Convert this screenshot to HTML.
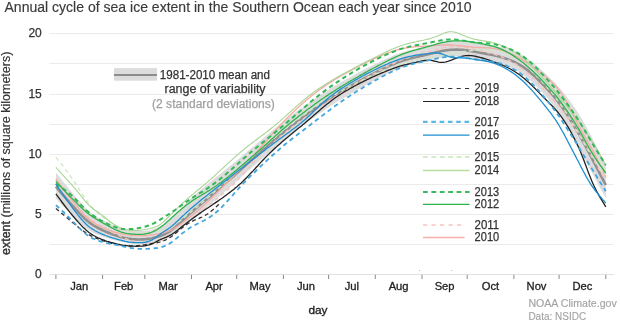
<!DOCTYPE html>
<html><head><meta charset="utf-8"><style>
html,body{margin:0;padding:0;background:#fff;width:620px;height:322px;overflow:hidden;position:relative}
svg text{font-family:"Liberation Sans",sans-serif}
svg{will-change:transform}
</style></head><body>
<svg width="620" height="322" viewBox="0 0 620 322" style="position:absolute;left:0;top:0">
<line x1="49.5" x2="613.5" y1="244.5" y2="244.5" stroke="#ebebeb" stroke-width="1"/>
<line x1="49.5" x2="613.5" y1="214.5" y2="214.5" stroke="#ebebeb" stroke-width="1"/>
<line x1="49.5" x2="613.5" y1="184.5" y2="184.5" stroke="#ebebeb" stroke-width="1"/>
<line x1="49.5" x2="613.5" y1="154.5" y2="154.5" stroke="#ebebeb" stroke-width="1"/>
<line x1="49.5" x2="613.5" y1="124.5" y2="124.5" stroke="#ebebeb" stroke-width="1"/>
<line x1="49.5" x2="613.5" y1="94.5" y2="94.5" stroke="#ebebeb" stroke-width="1"/>
<line x1="49.5" x2="613.5" y1="63.5" y2="63.5" stroke="#ebebeb" stroke-width="1"/>
<line x1="49.5" x2="613.5" y1="33.5" y2="33.5" stroke="#ebebeb" stroke-width="1"/>
<line x1="49.5" x2="614" y1="274.5" y2="274.5" stroke="#e2e2e2" stroke-width="1.2"/>
<line x1="55.9" x2="55.9" y1="274.8" y2="279" stroke="#8a8a8a" stroke-width="1"/>
<line x1="102.6" x2="102.6" y1="274.8" y2="279" stroke="#8a8a8a" stroke-width="1"/>
<line x1="144.8" x2="144.8" y1="274.8" y2="279" stroke="#8a8a8a" stroke-width="1"/>
<line x1="191.5" x2="191.5" y1="274.8" y2="279" stroke="#8a8a8a" stroke-width="1"/>
<line x1="236.7" x2="236.7" y1="274.8" y2="279" stroke="#8a8a8a" stroke-width="1"/>
<line x1="283.4" x2="283.4" y1="274.8" y2="279" stroke="#8a8a8a" stroke-width="1"/>
<line x1="328.6" x2="328.6" y1="274.8" y2="279" stroke="#8a8a8a" stroke-width="1"/>
<line x1="375.3" x2="375.3" y1="274.8" y2="279" stroke="#8a8a8a" stroke-width="1"/>
<line x1="422.0" x2="422.0" y1="274.8" y2="279" stroke="#8a8a8a" stroke-width="1"/>
<line x1="467.2" x2="467.2" y1="274.8" y2="279" stroke="#8a8a8a" stroke-width="1"/>
<line x1="513.9" x2="513.9" y1="274.8" y2="279" stroke="#8a8a8a" stroke-width="1"/>
<line x1="559.1" x2="559.1" y1="274.8" y2="279" stroke="#8a8a8a" stroke-width="1"/>
<line x1="605.8" x2="605.8" y1="274.8" y2="279" stroke="#8a8a8a" stroke-width="1"/>
<path d="M55.9,172.4 L57.4,174.3 L58.9,176.2 L60.4,178.1 L61.9,180.0 L63.4,181.9 L64.9,183.8 L66.4,185.7 L68.0,187.6 L69.5,189.4 L71.0,191.3 L72.5,193.1 L74.0,194.9 L75.5,196.7 L77.0,198.5 L78.5,200.2 L80.0,201.9 L81.5,203.6 L83.0,205.2 L84.5,206.8 L86.0,208.3 L87.5,209.8 L89.0,211.1 L90.5,212.4 L92.1,213.5 L93.6,214.6 L95.1,215.6 L96.6,216.6 L98.1,217.5 L99.6,218.4 L101.1,219.2 L102.6,220.0 L104.1,220.8 L105.6,221.6 L107.1,222.3 L108.6,223.0 L110.1,223.7 L111.6,224.3 L113.1,225.0 L114.7,225.6 L116.2,226.1 L117.7,226.7 L119.2,227.2 L120.7,227.7 L122.2,228.2 L123.7,228.6 L125.2,229.1 L126.7,229.4 L128.2,229.8 L129.7,230.1 L131.2,230.3 L132.7,230.6 L134.2,230.7 L135.7,230.9 L137.3,231.0 L138.8,231.1 L140.3,231.1 L141.8,231.1 L143.3,231.0 L144.8,230.9 L146.3,230.7 L147.8,230.5 L149.3,230.2 L150.8,229.9 L152.3,229.5 L153.8,229.0 L155.3,228.5 L156.8,227.9 L158.3,227.3 L159.8,226.6 L161.4,225.8 L162.9,225.0 L164.4,224.1 L165.9,223.1 L167.4,222.1 L168.9,220.9 L170.4,219.7 L171.9,218.4 L173.4,217.0 L174.9,215.5 L176.4,213.9 L177.9,212.3 L179.4,210.6 L180.9,209.0 L182.4,207.3 L184.0,205.6 L185.5,204.0 L187.0,202.4 L188.5,200.9 L190.0,199.4 L191.5,197.9 L193.0,196.5 L194.5,195.2 L196.0,193.8 L197.5,192.5 L199.0,191.2 L200.5,189.9 L202.0,188.7 L203.5,187.4 L205.0,186.2 L206.6,184.9 L208.1,183.7 L209.6,182.4 L211.1,181.2 L212.6,180.0 L214.1,178.8 L215.6,177.6 L217.1,176.4 L218.6,175.2 L220.1,174.0 L221.6,172.7 L223.1,171.5 L224.6,170.3 L226.1,169.1 L227.6,167.9 L229.1,166.6 L230.7,165.4 L232.2,164.2 L233.7,162.9 L235.2,161.7 L236.7,160.4 L238.2,159.2 L239.7,157.9 L241.2,156.7 L242.7,155.4 L244.2,154.1 L245.7,152.9 L247.2,151.6 L248.7,150.3 L250.2,149.1 L251.7,147.8 L253.3,146.5 L254.8,145.2 L256.3,144.0 L257.8,142.7 L259.3,141.5 L260.8,140.2 L262.3,138.9 L263.8,137.7 L265.3,136.4 L266.8,135.2 L268.3,133.9 L269.8,132.7 L271.3,131.4 L272.8,130.2 L274.3,128.9 L275.8,127.7 L277.4,126.5 L278.9,125.2 L280.4,124.0 L281.9,122.8 L283.4,121.6 L284.9,120.4 L286.4,119.2 L287.9,118.1 L289.4,116.9 L290.9,115.8 L292.4,114.6 L293.9,113.5 L295.4,112.4 L296.9,111.3 L298.4,110.2 L300.0,109.1 L301.5,108.0 L303.0,106.9 L304.5,105.9 L306.0,104.8 L307.5,103.7 L309.0,102.7 L310.5,101.6 L312.0,100.6 L313.5,99.6 L315.0,98.5 L316.5,97.5 L318.0,96.5 L319.5,95.5 L321.0,94.5 L322.6,93.5 L324.1,92.5 L325.6,91.6 L327.1,90.6 L328.6,89.7 L330.1,88.7 L331.6,87.8 L333.1,86.9 L334.6,86.0 L336.1,85.1 L337.6,84.2 L339.1,83.3 L340.6,82.5 L342.1,81.6 L343.6,80.7 L345.1,79.9 L346.7,79.0 L348.2,78.2 L349.7,77.4 L351.2,76.5 L352.7,75.7 L354.2,74.9 L355.7,74.0 L357.2,73.2 L358.7,72.4 L360.2,71.6 L361.7,70.8 L363.2,70.0 L364.7,69.2 L366.2,68.5 L367.7,67.7 L369.3,66.9 L370.8,66.2 L372.3,65.4 L373.8,64.6 L375.3,63.9 L376.8,63.2 L378.3,62.4 L379.8,61.7 L381.3,61.0 L382.8,60.3 L384.3,59.6 L385.8,58.9 L387.3,58.3 L388.8,57.6 L390.3,56.9 L391.8,56.3 L393.4,55.6 L394.9,55.0 L396.4,54.4 L397.9,53.9 L399.4,53.3 L400.9,52.8 L402.4,52.3 L403.9,51.8 L405.4,51.4 L406.9,50.9 L408.4,50.5 L409.9,50.2 L411.4,49.8 L412.9,49.4 L414.4,49.1 L416.0,48.7 L417.5,48.4 L419.0,48.1 L420.5,47.7 L422.0,47.4 L423.5,47.1 L425.0,46.7 L426.5,46.4 L428.0,46.1 L429.5,45.7 L431.0,45.3 L432.5,45.0 L434.0,44.6 L435.5,44.2 L437.0,43.9 L438.6,43.5 L440.1,43.2 L441.6,42.9 L443.1,42.6 L444.6,42.3 L446.1,42.1 L447.6,41.9 L449.1,41.7 L450.6,41.6 L452.1,41.4 L453.6,41.4 L455.1,41.3 L456.6,41.3 L458.1,41.3 L459.6,41.3 L461.1,41.4 L462.7,41.5 L464.2,41.6 L465.7,41.7 L467.2,41.9 L468.7,42.1 L470.2,42.3 L471.7,42.6 L473.2,42.8 L474.7,43.0 L476.2,43.3 L477.7,43.5 L479.2,43.7 L480.7,43.9 L482.2,44.1 L483.7,44.3 L485.3,44.6 L486.8,44.8 L488.3,45.0 L489.8,45.2 L491.3,45.5 L492.8,45.7 L494.3,46.0 L495.8,46.2 L497.3,46.5 L498.8,46.8 L500.3,47.1 L501.8,47.5 L503.3,47.8 L504.8,48.2 L506.3,48.6 L507.8,49.1 L509.4,49.5 L510.9,50.0 L512.4,50.6 L513.9,51.1 L515.4,51.7 L516.9,52.4 L518.4,53.1 L519.9,53.9 L521.4,54.7 L522.9,55.5 L524.4,56.5 L525.9,57.4 L527.4,58.5 L528.9,59.5 L530.4,60.6 L532.0,61.8 L533.5,63.0 L535.0,64.2 L536.5,65.5 L538.0,66.8 L539.5,68.1 L541.0,69.5 L542.5,70.9 L544.0,72.2 L545.5,73.7 L547.0,75.1 L548.5,76.5 L550.0,78.0 L551.5,79.5 L553.0,81.0 L554.6,82.6 L556.1,84.2 L557.6,85.9 L559.1,87.6 L560.6,89.3 L562.1,91.1 L563.6,92.9 L565.1,94.8 L566.6,96.7 L568.1,98.7 L569.6,100.6 L571.1,102.7 L572.6,104.8 L574.1,106.9 L575.6,109.1 L577.1,111.4 L578.7,113.8 L580.2,116.3 L581.7,118.8 L583.2,121.4 L584.7,124.1 L586.2,126.8 L587.7,129.6 L589.2,132.4 L590.7,135.2 L592.2,138.1 L593.7,141.0 L595.2,143.9 L596.7,146.9 L598.2,149.8 L599.7,152.8 L601.3,155.8 L602.8,158.7 L604.3,161.7 L605.8,164.6 L605.8,198.3 L604.3,195.5 L602.8,192.7 L601.3,189.9 L599.7,187.1 L598.2,184.3 L596.7,181.6 L595.2,178.8 L593.7,176.0 L592.2,173.3 L590.7,170.5 L589.2,167.7 L587.7,164.9 L586.2,162.1 L584.7,159.2 L583.2,156.3 L581.7,153.4 L580.2,150.5 L578.7,147.6 L577.1,144.7 L575.6,141.9 L574.1,139.1 L572.6,136.4 L571.1,133.6 L569.6,131.0 L568.1,128.3 L566.6,125.7 L565.1,123.2 L563.6,120.7 L562.1,118.2 L560.6,115.8 L559.1,113.5 L557.6,111.3 L556.1,109.1 L554.6,107.1 L553.0,105.1 L551.5,103.2 L550.0,101.4 L548.5,99.6 L547.0,97.8 L545.5,96.1 L544.0,94.4 L542.5,92.8 L541.0,91.1 L539.5,89.5 L538.0,87.9 L536.5,86.4 L535.0,84.9 L533.5,83.4 L532.0,82.0 L530.4,80.7 L528.9,79.3 L527.4,78.1 L525.9,76.9 L524.4,75.7 L522.9,74.6 L521.4,73.6 L519.9,72.6 L518.4,71.6 L516.9,70.8 L515.4,70.0 L513.9,69.2 L512.4,68.5 L510.9,67.8 L509.4,67.1 L507.8,66.5 L506.3,65.9 L504.8,65.4 L503.3,64.9 L501.8,64.4 L500.3,63.9 L498.8,63.5 L497.3,63.1 L495.8,62.7 L494.3,62.3 L492.8,61.9 L491.3,61.6 L489.8,61.3 L488.3,61.0 L486.8,60.7 L485.3,60.4 L483.7,60.1 L482.2,59.8 L480.7,59.5 L479.2,59.3 L477.7,59.0 L476.2,58.7 L474.7,58.4 L473.2,58.1 L471.7,57.9 L470.2,57.6 L468.7,57.3 L467.2,57.1 L465.7,56.9 L464.2,56.7 L462.7,56.5 L461.1,56.4 L459.6,56.3 L458.1,56.2 L456.6,56.2 L455.1,56.2 L453.6,56.2 L452.1,56.3 L450.6,56.4 L449.1,56.5 L447.6,56.7 L446.1,56.9 L444.6,57.1 L443.1,57.3 L441.6,57.6 L440.1,57.9 L438.6,58.3 L437.0,58.6 L435.5,59.0 L434.0,59.3 L432.5,59.7 L431.0,60.1 L429.5,60.4 L428.0,60.8 L426.5,61.2 L425.0,61.5 L423.5,61.9 L422.0,62.2 L420.5,62.6 L419.0,62.9 L417.5,63.2 L416.0,63.6 L414.4,64.0 L412.9,64.3 L411.4,64.7 L409.9,65.1 L408.4,65.5 L406.9,66.0 L405.4,66.4 L403.9,66.9 L402.4,67.4 L400.9,67.9 L399.4,68.5 L397.9,69.1 L396.4,69.7 L394.9,70.3 L393.4,71.0 L391.8,71.7 L390.3,72.4 L388.8,73.1 L387.3,73.8 L385.8,74.5 L384.3,75.3 L382.8,76.0 L381.3,76.8 L379.8,77.5 L378.3,78.3 L376.8,79.1 L375.3,79.9 L373.8,80.7 L372.3,81.5 L370.8,82.3 L369.3,83.1 L367.7,84.0 L366.2,84.8 L364.7,85.7 L363.2,86.5 L361.7,87.4 L360.2,88.2 L358.7,89.1 L357.2,90.0 L355.7,90.8 L354.2,91.7 L352.7,92.6 L351.2,93.5 L349.7,94.4 L348.2,95.3 L346.7,96.2 L345.1,97.1 L343.6,98.0 L342.1,98.9 L340.6,99.8 L339.1,100.8 L337.6,101.7 L336.1,102.6 L334.6,103.6 L333.1,104.5 L331.6,105.5 L330.1,106.5 L328.6,107.4 L327.1,108.4 L325.6,109.4 L324.1,110.4 L322.6,111.5 L321.0,112.5 L319.5,113.5 L318.0,114.6 L316.5,115.6 L315.0,116.7 L313.5,117.8 L312.0,118.8 L310.5,119.9 L309.0,121.0 L307.5,122.1 L306.0,123.2 L304.5,124.3 L303.0,125.4 L301.5,126.5 L300.0,127.7 L298.4,128.8 L296.9,129.9 L295.4,131.1 L293.9,132.2 L292.4,133.4 L290.9,134.5 L289.4,135.7 L287.9,136.9 L286.4,138.1 L284.9,139.3 L283.4,140.6 L281.9,141.8 L280.4,143.1 L278.9,144.3 L277.4,145.6 L275.8,146.8 L274.3,148.1 L272.8,149.4 L271.3,150.7 L269.8,152.0 L268.3,153.3 L266.8,154.6 L265.3,155.9 L263.8,157.2 L262.3,158.5 L260.8,159.8 L259.3,161.1 L257.8,162.4 L256.3,163.7 L254.8,165.0 L253.3,166.3 L251.7,167.6 L250.2,169.0 L248.7,170.3 L247.2,171.7 L245.7,173.0 L244.2,174.4 L242.7,175.7 L241.2,177.1 L239.7,178.4 L238.2,179.8 L236.7,181.2 L235.2,182.5 L233.7,183.9 L232.2,185.3 L230.7,186.6 L229.1,188.0 L227.6,189.3 L226.1,190.6 L224.6,192.0 L223.1,193.3 L221.6,194.6 L220.1,195.9 L218.6,197.2 L217.1,198.5 L215.6,199.8 L214.1,201.1 L212.6,202.4 L211.1,203.7 L209.6,204.9 L208.1,206.2 L206.6,207.5 L205.0,208.7 L203.5,210.0 L202.0,211.2 L200.5,212.5 L199.0,213.7 L197.5,214.9 L196.0,216.2 L194.5,217.4 L193.0,218.7 L191.5,219.9 L190.0,221.2 L188.5,222.4 L187.0,223.7 L185.5,225.0 L184.0,226.3 L182.4,227.6 L180.9,228.9 L179.4,230.2 L177.9,231.5 L176.4,232.7 L174.9,233.8 L173.4,234.9 L171.9,235.9 L170.4,236.8 L168.9,237.7 L167.4,238.4 L165.9,239.0 L164.4,239.6 L162.9,240.1 L161.4,240.6 L159.8,241.0 L158.3,241.4 L156.8,241.8 L155.3,242.2 L153.8,242.5 L152.3,242.7 L150.8,243.0 L149.3,243.2 L147.8,243.4 L146.3,243.5 L144.8,243.6 L143.3,243.7 L141.8,243.7 L140.3,243.8 L138.8,243.8 L137.3,243.7 L135.7,243.7 L134.2,243.6 L132.7,243.5 L131.2,243.4 L129.7,243.2 L128.2,243.0 L126.7,242.8 L125.2,242.6 L123.7,242.3 L122.2,242.0 L120.7,241.7 L119.2,241.3 L117.7,240.9 L116.2,240.6 L114.7,240.2 L113.1,239.8 L111.6,239.4 L110.1,239.0 L108.6,238.5 L107.1,238.1 L105.6,237.6 L104.1,237.1 L102.6,236.6 L101.1,236.1 L99.6,235.6 L98.1,235.0 L96.6,234.4 L95.1,233.7 L93.6,233.0 L92.1,232.2 L90.5,231.3 L89.0,230.4 L87.5,229.3 L86.0,228.2 L84.5,227.0 L83.0,225.7 L81.5,224.3 L80.0,223.0 L78.5,221.5 L77.0,220.1 L75.5,218.6 L74.0,217.2 L72.5,215.7 L71.0,214.2 L69.5,212.6 L68.0,211.1 L66.4,209.5 L64.9,208.0 L63.4,206.4 L61.9,204.8 L60.4,203.2 L58.9,201.6 L57.4,200.0 L55.9,198.4Z" fill="#dcdcdc"/>
<path d="M55.9,186.6 L57.4,188.4 L58.9,190.1 L60.4,191.9 L61.9,193.7 L63.4,195.4 L64.9,197.2 L66.4,198.9 L68.0,200.6 L69.5,202.4 L71.0,204.1 L72.5,205.7 L74.0,207.4 L75.5,209.1 L77.0,210.7 L78.5,212.3 L80.0,213.9 L81.5,215.4 L83.0,216.9 L84.5,218.4 L86.0,219.8 L87.5,221.1 L89.0,222.3 L90.5,223.4 L92.1,224.5 L93.6,225.5 L95.1,226.4 L96.6,227.2 L98.1,228.0 L99.6,228.8 L101.1,229.5 L102.6,230.2 L104.1,230.9 L105.6,231.6 L107.1,232.2 L108.6,232.8 L110.1,233.4 L111.6,234.0 L113.1,234.5 L114.7,235.0 L116.2,235.5 L117.7,236.0 L119.2,236.5 L120.7,236.9 L122.2,237.3 L123.7,237.7 L125.2,238.0 L126.7,238.3 L128.2,238.6 L129.7,238.8 L131.2,239.0 L132.7,239.2 L134.2,239.3 L135.7,239.4 L137.3,239.5 L138.8,239.5 L140.3,239.5 L141.8,239.4 L143.3,239.4 L144.8,239.3 L146.3,239.1 L147.8,238.9 L149.3,238.7 L150.8,238.5 L152.3,238.2 L153.8,237.8 L155.3,237.4 L156.8,237.0 L158.3,236.5 L159.8,236.0 L161.4,235.5 L162.9,234.9 L164.4,234.2 L165.9,233.5 L167.4,232.7 L168.9,231.9 L170.4,230.9 L171.9,229.8 L173.4,228.7 L174.9,227.5 L176.4,226.2 L177.9,224.8 L179.4,223.4 L180.9,222.0 L182.4,220.5 L184.0,219.1 L185.5,217.7 L187.0,216.3 L188.5,214.9 L190.0,213.5 L191.5,212.2 L193.0,210.9 L194.5,209.6 L196.0,208.3 L197.5,207.0 L199.0,205.8 L200.5,204.5 L202.0,203.2 L203.5,202.0 L205.0,200.7 L206.6,199.4 L208.1,198.1 L209.6,196.9 L211.1,195.6 L212.6,194.3 L214.1,193.0 L215.6,191.7 L217.1,190.4 L218.6,189.2 L220.1,187.9 L221.6,186.6 L223.1,185.3 L224.6,183.9 L226.1,182.6 L227.6,181.3 L229.1,180.0 L230.7,178.6 L232.2,177.3 L233.7,176.0 L235.2,174.6 L236.7,173.3 L238.2,171.9 L239.7,170.6 L241.2,169.2 L242.7,167.9 L244.2,166.5 L245.7,165.2 L247.2,163.8 L248.7,162.5 L250.2,161.2 L251.7,159.8 L253.3,158.5 L254.8,157.2 L256.3,155.9 L257.8,154.5 L259.3,153.2 L260.8,151.9 L262.3,150.6 L263.8,149.3 L265.3,148.0 L266.8,146.7 L268.3,145.4 L269.8,144.1 L271.3,142.8 L272.8,141.5 L274.3,140.2 L275.8,138.9 L277.4,137.6 L278.9,136.4 L280.4,135.1 L281.9,133.8 L283.4,132.6 L284.9,131.3 L286.4,130.1 L287.9,128.9 L289.4,127.7 L290.9,126.5 L292.4,125.3 L293.9,124.2 L295.4,123.0 L296.9,121.9 L298.4,120.7 L300.0,119.6 L301.5,118.4 L303.0,117.3 L304.5,116.2 L306.0,115.1 L307.5,114.0 L309.0,112.9 L310.5,111.8 L312.0,110.7 L313.5,109.6 L315.0,108.6 L316.5,107.5 L318.0,106.5 L319.5,105.4 L321.0,104.4 L322.6,103.4 L324.1,102.3 L325.6,101.3 L327.1,100.3 L328.6,99.4 L330.1,98.4 L331.6,97.4 L333.1,96.5 L334.6,95.5 L336.1,94.6 L337.6,93.7 L339.1,92.8 L340.6,91.9 L342.1,91.0 L343.6,90.1 L345.1,89.2 L346.7,88.3 L348.2,87.5 L349.7,86.6 L351.2,85.7 L352.7,84.9 L354.2,84.0 L355.7,83.2 L357.2,82.3 L358.7,81.5 L360.2,80.6 L361.7,79.8 L363.2,79.0 L364.7,78.2 L366.2,77.4 L367.7,76.6 L369.3,75.8 L370.8,75.0 L372.3,74.2 L373.8,73.5 L375.3,72.7 L376.8,71.9 L378.3,71.2 L379.8,70.5 L381.3,69.7 L382.8,69.0 L384.3,68.3 L385.8,67.6 L387.3,66.9 L388.8,66.2 L390.3,65.5 L391.8,64.8 L393.4,64.2 L394.9,63.6 L396.4,62.9 L397.9,62.4 L399.4,61.8 L400.9,61.3 L402.4,60.7 L403.9,60.3 L405.4,59.8 L406.9,59.4 L408.4,58.9 L409.9,58.5 L411.4,58.2 L412.9,57.8 L414.4,57.4 L416.0,57.1 L417.5,56.7 L419.0,56.4 L420.5,56.0 L422.0,55.7 L423.5,55.4 L425.0,55.0 L426.5,54.7 L428.0,54.3 L429.5,53.9 L431.0,53.6 L432.5,53.2 L434.0,52.8 L435.5,52.5 L437.0,52.1 L438.6,51.8 L440.1,51.4 L441.6,51.1 L443.1,50.8 L444.6,50.6 L446.1,50.3 L447.6,50.1 L449.1,50.0 L450.6,49.8 L452.1,49.7 L453.6,49.7 L455.1,49.6 L456.6,49.6 L458.1,49.6 L459.6,49.7 L461.1,49.8 L462.7,49.9 L464.2,50.0 L465.7,50.2 L467.2,50.4 L468.7,50.7 L470.2,50.9 L471.7,51.2 L473.2,51.5 L474.7,51.7 L476.2,52.0 L477.7,52.3 L479.2,52.5 L480.7,52.8 L482.2,53.1 L483.7,53.3 L485.3,53.6 L486.8,53.9 L488.3,54.2 L489.8,54.5 L491.3,54.8 L492.8,55.1 L494.3,55.4 L495.8,55.7 L497.3,56.1 L498.8,56.5 L500.3,56.9 L501.8,57.3 L503.3,57.8 L504.8,58.2 L506.3,58.8 L507.8,59.3 L509.4,59.9 L510.9,60.5 L512.4,61.1 L513.9,61.8 L515.4,62.5 L516.9,63.3 L518.4,64.1 L519.9,64.9 L521.4,65.9 L522.9,66.8 L524.4,67.9 L525.9,69.0 L527.4,70.1 L528.9,71.3 L530.4,72.6 L532.0,73.9 L533.5,75.2 L535.0,76.6 L536.5,78.0 L538.0,79.5 L539.5,81.0 L541.0,82.5 L542.5,84.0 L544.0,85.6 L545.5,87.1 L547.0,88.7 L548.5,90.4 L550.0,92.0 L551.5,93.7 L553.0,95.5 L554.6,97.3 L556.1,99.1 L557.6,101.1 L559.1,103.1 L560.6,105.1 L562.1,107.2 L563.6,109.4 L565.1,111.6 L566.6,113.9 L568.1,116.2 L569.6,118.5 L571.1,120.9 L572.6,123.3 L574.1,125.8 L575.6,128.4 L577.1,131.0 L578.7,133.6 L580.2,136.3 L581.7,139.1 L583.2,141.9 L584.7,144.7 L586.2,147.5 L587.7,150.3 L589.2,153.2 L590.7,156.0 L592.2,158.9 L593.7,161.8 L595.2,164.7 L596.7,167.6 L598.2,170.5 L599.7,173.4 L601.3,176.3 L602.8,179.2 L604.3,182.1 L605.8,185.0" fill="none" stroke="#909090" stroke-width="2.6"/>
<path d="M55.9,182.6 L57.4,184.4 L58.9,186.2 L60.4,187.9 L61.9,189.7 L63.4,191.4 L64.9,193.2 L66.4,194.9 L68.0,196.6 L69.5,198.3 L71.0,199.9 L72.5,201.6 L74.0,203.2 L75.5,204.8 L77.0,206.4 L78.5,208.0 L80.0,209.6 L81.5,211.1 L83.0,212.6 L84.5,214.1 L86.0,215.5 L87.5,216.8 L89.0,218.1 L90.5,219.3 L92.1,220.3 L93.6,221.4 L95.1,222.4 L96.6,223.3 L98.1,224.2 L99.6,225.1 L101.1,225.9 L102.6,226.8 L104.1,227.6 L105.6,228.5 L107.1,229.3 L108.6,230.1 L110.1,231.0 L111.6,231.8 L113.1,232.6 L114.7,233.3 L116.2,234.1 L117.7,234.9 L119.2,235.6 L120.7,236.3 L122.2,237.0 L123.7,237.7 L125.2,238.3 L126.7,238.9 L128.2,239.5 L129.7,240.0 L131.2,240.5 L132.7,240.9 L134.2,241.4 L135.7,241.7 L137.3,242.1 L138.8,242.3 L140.3,242.6 L141.8,242.8 L143.3,243.0 L144.8,243.1 L146.3,243.1 L147.8,243.2 L149.3,243.1 L150.8,243.0 L152.3,242.9 L153.8,242.7 L155.3,242.4 L156.8,242.2 L158.3,241.8 L159.8,241.4 L161.4,241.0 L162.9,240.5 L164.4,240.0 L165.9,239.4 L167.4,238.7 L168.9,238.0 L170.4,237.1 L171.9,236.2 L173.4,235.1 L174.9,234.0 L176.4,232.8 L177.9,231.5 L179.4,230.2 L180.9,228.9 L182.4,227.6 L184.0,226.2 L185.5,224.9 L187.0,223.6 L188.5,222.2 L190.0,221.0 L191.5,219.7 L193.0,218.5 L194.5,217.2 L196.0,216.0 L197.5,214.8 L199.0,213.6 L200.5,212.4 L202.0,211.2 L203.5,209.9 L205.0,208.7 L206.6,207.5 L208.1,206.2 L209.6,205.0 L211.1,203.7 L212.6,202.5 L214.1,201.2 L215.6,200.0 L217.1,198.7 L218.6,197.4 L220.1,196.1 L221.6,194.8 L223.1,193.5 L224.6,192.2 L226.1,190.9 L227.6,189.5 L229.1,188.2 L230.7,186.8 L232.2,185.4 L233.7,184.0 L235.2,182.5 L236.7,181.0 L238.2,179.5 L239.7,177.9 L241.2,176.2 L242.7,174.5 L244.2,172.8 L245.7,171.0 L247.2,169.2 L248.7,167.5 L250.2,165.7 L251.7,164.0 L253.3,162.3 L254.8,160.6 L256.3,158.9 L257.8,157.4 L259.3,155.8 L260.8,154.3 L262.3,152.9 L263.8,151.4 L265.3,150.0 L266.8,148.6 L268.3,147.3 L269.8,145.9 L271.3,144.5 L272.8,143.2 L274.3,141.9 L275.8,140.5 L277.4,139.2 L278.9,137.9 L280.4,136.6 L281.9,135.4 L283.4,134.1 L284.9,132.9 L286.4,131.6 L287.9,130.4 L289.4,129.2 L290.9,128.1 L292.4,126.9 L293.9,125.7 L295.4,124.6 L296.9,123.5 L298.4,122.3 L300.0,121.2 L301.5,120.1 L303.0,119.0 L304.5,117.9 L306.0,116.8 L307.5,115.7 L309.0,114.6 L310.5,113.6 L312.0,112.5 L313.5,111.4 L315.0,110.4 L316.5,109.3 L318.0,108.3 L319.5,107.2 L321.0,106.2 L322.6,105.2 L324.1,104.2 L325.6,103.1 L327.1,102.1 L328.6,101.1 L330.1,100.1 L331.6,99.1 L333.1,98.2 L334.6,97.2 L336.1,96.2 L337.6,95.3 L339.1,94.3 L340.6,93.4 L342.1,92.4 L343.6,91.5 L345.1,90.6 L346.7,89.6 L348.2,88.7 L349.7,87.8 L351.2,86.9 L352.7,85.9 L354.2,85.0 L355.7,84.1 L357.2,83.2 L358.7,82.3 L360.2,81.4 L361.7,80.5 L363.2,79.7 L364.7,78.8 L366.2,77.9 L367.7,77.0 L369.3,76.2 L370.8,75.3 L372.3,74.5 L373.8,73.6 L375.3,72.8 L376.8,72.0 L378.3,71.2 L379.8,70.4 L381.3,69.6 L382.8,68.8 L384.3,68.0 L385.8,67.2 L387.3,66.4 L388.8,65.7 L390.3,64.9 L391.8,64.2 L393.4,63.5 L394.9,62.8 L396.4,62.1 L397.9,61.5 L399.4,60.8 L400.9,60.2 L402.4,59.7 L403.9,59.1 L405.4,58.6 L406.9,58.1 L408.4,57.6 L409.9,57.1 L411.4,56.7 L412.9,56.2 L414.4,55.8 L416.0,55.3 L417.5,54.9 L419.0,54.5 L420.5,54.1 L422.0,53.7 L423.5,53.2 L425.0,52.8 L426.5,52.4 L428.0,52.0 L429.5,51.5 L431.0,51.1 L432.5,50.7 L434.0,50.2 L435.5,49.8 L437.0,49.4 L438.6,49.0 L440.1,48.6 L441.6,48.2 L443.1,47.9 L444.6,47.6 L446.1,47.4 L447.6,47.1 L449.1,47.0 L450.6,46.8 L452.1,46.7 L453.6,46.7 L455.1,46.7 L456.6,46.7 L458.1,46.7 L459.6,46.8 L461.1,46.9 L462.7,47.1 L464.2,47.3 L465.7,47.5 L467.2,47.8 L468.7,48.1 L470.2,48.4 L471.7,48.7 L473.2,49.1 L474.7,49.4 L476.2,49.8 L477.7,50.1 L479.2,50.5 L480.7,50.8 L482.2,51.2 L483.7,51.6 L485.3,51.9 L486.8,52.3 L488.3,52.7 L489.8,53.1 L491.3,53.5 L492.8,53.9 L494.3,54.4 L495.8,54.9 L497.3,55.4 L498.8,55.9 L500.3,56.4 L501.8,57.0 L503.3,57.7 L504.8,58.3 L506.3,59.0 L507.8,59.7 L509.4,60.5 L510.9,61.3 L512.4,62.1 L513.9,63.0 L515.4,63.9 L516.9,64.9 L518.4,65.9 L519.9,67.0 L521.4,68.1 L522.9,69.3 L524.4,70.5 L525.9,71.8 L527.4,73.1 L528.9,74.4 L530.4,75.8 L532.0,77.3 L533.5,78.8 L535.0,80.2 L536.5,81.8 L538.0,83.3 L539.5,84.9 L541.0,86.4 L542.5,88.0 L544.0,89.6 L545.5,91.2 L547.0,92.8 L548.5,94.4 L550.0,96.0 L551.5,97.6 L553.0,99.3 L554.6,101.0 L556.1,102.7 L557.6,104.6 L559.1,106.4 L560.6,108.3 L562.1,110.3 L563.6,112.3 L565.1,114.3 L566.6,116.4 L568.1,118.5 L569.6,120.6 L571.1,122.8 L572.6,125.0 L574.1,127.3 L575.6,129.6 L577.1,131.9 L578.7,134.3 L580.2,136.8 L581.7,139.3 L583.2,141.8 L584.7,144.4 L586.2,147.0 L587.7,149.6 L589.2,152.2 L590.7,154.8 L592.2,157.4 L593.7,160.0 L595.2,162.6 L596.7,165.3 L598.2,168.0 L599.7,170.7 L601.3,173.3 L602.8,176.0 L604.3,178.7 L605.8,181.4" fill="none" stroke="#f7c0ba" stroke-width="1.4" stroke-dasharray="4,3.5" stroke-linejoin="round"/>
<path d="M55.9,179.0 L57.4,181.0 L58.9,183.0 L60.4,185.0 L61.9,187.1 L63.4,189.1 L64.9,191.1 L66.4,193.1 L68.0,195.0 L69.5,197.0 L71.0,199.0 L72.5,200.9 L74.0,202.8 L75.5,204.7 L77.0,206.5 L78.5,208.4 L80.0,210.1 L81.5,211.9 L83.0,213.5 L84.5,215.2 L86.0,216.7 L87.5,218.1 L89.0,219.4 L90.5,220.6 L92.1,221.7 L93.6,222.8 L95.1,223.7 L96.6,224.6 L98.1,225.4 L99.6,226.2 L101.1,226.9 L102.6,227.6 L104.1,228.2 L105.6,228.9 L107.1,229.5 L108.6,230.0 L110.1,230.6 L111.6,231.1 L113.1,231.6 L114.7,232.1 L116.2,232.5 L117.7,232.9 L119.2,233.3 L120.7,233.7 L122.2,234.0 L123.7,234.3 L125.2,234.6 L126.7,234.9 L128.2,235.1 L129.7,235.3 L131.2,235.4 L132.7,235.5 L134.2,235.6 L135.7,235.7 L137.3,235.7 L138.8,235.7 L140.3,235.7 L141.8,235.7 L143.3,235.6 L144.8,235.6 L146.3,235.5 L147.8,235.3 L149.3,235.2 L150.8,235.0 L152.3,234.8 L153.8,234.6 L155.3,234.4 L156.8,234.1 L158.3,233.8 L159.8,233.6 L161.4,233.2 L162.9,232.9 L164.4,232.6 L165.9,232.1 L167.4,231.7 L168.9,231.1 L170.4,230.5 L171.9,229.8 L173.4,229.0 L174.9,228.1 L176.4,227.1 L177.9,226.1 L179.4,225.0 L180.9,223.9 L182.4,222.8 L184.0,221.6 L185.5,220.5 L187.0,219.3 L188.5,218.1 L190.0,216.9 L191.5,215.8 L193.0,214.6 L194.5,213.4 L196.0,212.1 L197.5,210.9 L199.0,209.6 L200.5,208.3 L202.0,207.0 L203.5,205.6 L205.0,204.2 L206.6,202.8 L208.1,201.4 L209.6,199.9 L211.1,198.5 L212.6,197.0 L214.1,195.5 L215.6,194.1 L217.1,192.6 L218.6,191.1 L220.1,189.6 L221.6,188.1 L223.1,186.5 L224.6,185.0 L226.1,183.5 L227.6,182.0 L229.1,180.5 L230.7,179.0 L232.2,177.4 L233.7,175.9 L235.2,174.4 L236.7,172.8 L238.2,171.3 L239.7,169.7 L241.2,168.1 L242.7,166.6 L244.2,165.0 L245.7,163.4 L247.2,161.8 L248.7,160.2 L250.2,158.6 L251.7,157.0 L253.3,155.3 L254.8,153.7 L256.3,152.1 L257.8,150.4 L259.3,148.7 L260.8,147.0 L262.3,145.3 L263.8,143.6 L265.3,141.9 L266.8,140.2 L268.3,138.4 L269.8,136.7 L271.3,135.0 L272.8,133.3 L274.3,131.6 L275.8,129.9 L277.4,128.3 L278.9,126.6 L280.4,125.0 L281.9,123.4 L283.4,121.8 L284.9,120.3 L286.4,118.8 L287.9,117.3 L289.4,115.8 L290.9,114.3 L292.4,112.8 L293.9,111.4 L295.4,110.0 L296.9,108.6 L298.4,107.2 L300.0,105.8 L301.5,104.5 L303.0,103.1 L304.5,101.8 L306.0,100.5 L307.5,99.2 L309.0,98.0 L310.5,96.7 L312.0,95.5 L313.5,94.3 L315.0,93.2 L316.5,92.0 L318.0,90.9 L319.5,89.8 L321.0,88.7 L322.6,87.6 L324.1,86.6 L325.6,85.6 L327.1,84.5 L328.6,83.5 L330.1,82.6 L331.6,81.6 L333.1,80.6 L334.6,79.7 L336.1,78.8 L337.6,77.9 L339.1,77.0 L340.6,76.1 L342.1,75.3 L343.6,74.4 L345.1,73.6 L346.7,72.7 L348.2,71.9 L349.7,71.1 L351.2,70.2 L352.7,69.4 L354.2,68.6 L355.7,67.8 L357.2,67.0 L358.7,66.3 L360.2,65.5 L361.7,64.7 L363.2,64.0 L364.7,63.2 L366.2,62.5 L367.7,61.7 L369.3,61.0 L370.8,60.3 L372.3,59.6 L373.8,58.9 L375.3,58.2 L376.8,57.6 L378.3,56.9 L379.8,56.3 L381.3,55.6 L382.8,55.0 L384.3,54.4 L385.8,53.8 L387.3,53.2 L388.8,52.7 L390.3,52.1 L391.8,51.6 L393.4,51.1 L394.9,50.6 L396.4,50.1 L397.9,49.7 L399.4,49.3 L400.9,48.9 L402.4,48.6 L403.9,48.3 L405.4,48.0 L406.9,47.7 L408.4,47.5 L409.9,47.3 L411.4,47.1 L412.9,47.0 L414.4,46.9 L416.0,46.7 L417.5,46.6 L419.0,46.5 L420.5,46.5 L422.0,46.4 L423.5,46.3 L425.0,46.2 L426.5,46.1 L428.0,46.0 L429.5,45.9 L431.0,45.8 L432.5,45.7 L434.0,45.6 L435.5,45.5 L437.0,45.4 L438.6,45.3 L440.1,45.2 L441.6,45.1 L443.1,45.0 L444.6,45.0 L446.1,45.0 L447.6,45.0 L449.1,45.0 L450.6,45.0 L452.1,45.1 L453.6,45.2 L455.1,45.3 L456.6,45.4 L458.1,45.5 L459.6,45.6 L461.1,45.8 L462.7,46.0 L464.2,46.1 L465.7,46.3 L467.2,46.5 L468.7,46.7 L470.2,46.9 L471.7,47.0 L473.2,47.2 L474.7,47.3 L476.2,47.4 L477.7,47.5 L479.2,47.6 L480.7,47.6 L482.2,47.7 L483.7,47.7 L485.3,47.8 L486.8,47.8 L488.3,47.9 L489.8,48.0 L491.3,48.2 L492.8,48.4 L494.3,48.6 L495.8,48.8 L497.3,49.1 L498.8,49.5 L500.3,49.9 L501.8,50.3 L503.3,50.8 L504.8,51.3 L506.3,51.8 L507.8,52.4 L509.4,53.0 L510.9,53.6 L512.4,54.3 L513.9,55.0 L515.4,55.8 L516.9,56.6 L518.4,57.4 L519.9,58.3 L521.4,59.2 L522.9,60.1 L524.4,61.1 L525.9,62.1 L527.4,63.1 L528.9,64.2 L530.4,65.2 L532.0,66.3 L533.5,67.4 L535.0,68.5 L536.5,69.6 L538.0,70.7 L539.5,71.8 L541.0,73.0 L542.5,74.2 L544.0,75.3 L545.5,76.6 L547.0,77.8 L548.5,79.1 L550.0,80.4 L551.5,81.8 L553.0,83.3 L554.6,84.8 L556.1,86.5 L557.6,88.2 L559.1,90.1 L560.6,92.2 L562.1,94.4 L563.6,96.8 L565.1,99.3 L566.6,102.1 L568.1,104.9 L569.6,107.9 L571.1,110.9 L572.6,113.9 L574.1,116.9 L575.6,119.9 L577.1,122.8 L578.7,125.7 L580.2,128.4 L581.7,131.1 L583.2,133.8 L584.7,136.4 L586.2,139.0 L587.7,141.6 L589.2,144.2 L590.7,146.9 L592.2,149.6 L593.7,152.4 L595.2,155.3 L596.7,158.3 L598.2,161.4 L599.7,164.5 L601.3,167.7 L602.8,170.9 L604.3,174.2 L605.8,177.5" fill="none" stroke="#f4aca4" stroke-width="1.3" stroke-linejoin="round"/>
<path d="M55.9,157.4 L57.4,159.1 L58.9,160.9 L60.4,162.7 L61.9,164.6 L63.4,166.5 L64.9,168.5 L66.4,170.6 L68.0,172.6 L69.5,174.7 L71.0,176.9 L72.5,179.0 L74.0,181.2 L75.5,183.5 L77.0,185.8 L78.5,188.1 L80.0,190.5 L81.5,192.9 L83.0,195.3 L84.5,197.6 L86.0,199.8 L87.5,201.9 L89.0,203.9 L90.5,205.7 L92.1,207.4 L93.6,208.9 L95.1,210.4 L96.6,211.8 L98.1,213.2 L99.6,214.4 L101.1,215.7 L102.6,216.9 L104.1,218.0 L105.6,219.2 L107.1,220.3 L108.6,221.3 L110.1,222.3 L111.6,223.3 L113.1,224.2 L114.7,225.1 L116.2,225.9 L117.7,226.7 L119.2,227.5 L120.7,228.2 L122.2,228.8 L123.7,229.4 L125.2,230.0 L126.7,230.4 L128.2,230.8 L129.7,231.2 L131.2,231.5 L132.7,231.7 L134.2,231.9 L135.7,232.1 L137.3,232.2 L138.8,232.3 L140.3,232.4 L141.8,232.4 L143.3,232.4 L144.8,232.4 L146.3,232.3 L147.8,232.3 L149.3,232.2 L150.8,232.0 L152.3,231.9 L153.8,231.7 L155.3,231.5 L156.8,231.3 L158.3,231.1 L159.8,230.8 L161.4,230.4 L162.9,230.1 L164.4,229.7 L165.9,229.2 L167.4,228.7 L168.9,228.1 L170.4,227.4 L171.9,226.6 L173.4,225.7 L174.9,224.7 L176.4,223.6 L177.9,222.5 L179.4,221.4 L180.9,220.2 L182.4,218.9 L184.0,217.7 L185.5,216.4 L187.0,215.2 L188.5,214.0 L190.0,212.7 L191.5,211.5 L193.0,210.3 L194.5,209.1 L196.0,207.8 L197.5,206.6 L199.0,205.3 L200.5,204.1 L202.0,202.8 L203.5,201.5 L205.0,200.2 L206.6,198.9 L208.1,197.5 L209.6,196.2 L211.1,194.8 L212.6,193.5 L214.1,192.1 L215.6,190.8 L217.1,189.4 L218.6,188.1 L220.1,186.7 L221.6,185.3 L223.1,184.0 L224.6,182.6 L226.1,181.2 L227.6,179.9 L229.1,178.5 L230.7,177.1 L232.2,175.7 L233.7,174.3 L235.2,172.9 L236.7,171.5 L238.2,170.1 L239.7,168.7 L241.2,167.2 L242.7,165.8 L244.2,164.4 L245.7,163.0 L247.2,161.6 L248.7,160.2 L250.2,158.9 L251.7,157.5 L253.3,156.1 L254.8,154.8 L256.3,153.5 L257.8,152.1 L259.3,150.8 L260.8,149.5 L262.3,148.2 L263.8,146.9 L265.3,145.6 L266.8,144.3 L268.3,143.0 L269.8,141.7 L271.3,140.4 L272.8,139.1 L274.3,137.9 L275.8,136.6 L277.4,135.3 L278.9,134.1 L280.4,132.8 L281.9,131.6 L283.4,130.4 L284.9,129.2 L286.4,128.0 L287.9,126.8 L289.4,125.6 L290.9,124.4 L292.4,123.3 L293.9,122.1 L295.4,121.0 L296.9,119.9 L298.4,118.8 L300.0,117.7 L301.5,116.6 L303.0,115.5 L304.5,114.4 L306.0,113.4 L307.5,112.3 L309.0,111.2 L310.5,110.2 L312.0,109.1 L313.5,108.1 L315.0,107.1 L316.5,106.1 L318.0,105.1 L319.5,104.1 L321.0,103.1 L322.6,102.1 L324.1,101.1 L325.6,100.2 L327.1,99.2 L328.6,98.3 L330.1,97.4 L331.6,96.5 L333.1,95.6 L334.6,94.7 L336.1,93.8 L337.6,93.0 L339.1,92.1 L340.6,91.3 L342.1,90.5 L343.6,89.6 L345.1,88.8 L346.7,88.0 L348.2,87.2 L349.7,86.4 L351.2,85.6 L352.7,84.9 L354.2,84.1 L355.7,83.3 L357.2,82.5 L358.7,81.8 L360.2,81.0 L361.7,80.3 L363.2,79.6 L364.7,78.8 L366.2,78.1 L367.7,77.4 L369.3,76.7 L370.8,76.0 L372.3,75.3 L373.8,74.6 L375.3,73.9 L376.8,73.3 L378.3,72.6 L379.8,72.0 L381.3,71.3 L382.8,70.7 L384.3,70.0 L385.8,69.4 L387.3,68.8 L388.8,68.2 L390.3,67.6 L391.8,67.0 L393.4,66.4 L394.9,65.8 L396.4,65.3 L397.9,64.8 L399.4,64.3 L400.9,63.8 L402.4,63.4 L403.9,63.0 L405.4,62.6 L406.9,62.2 L408.4,61.9 L409.9,61.6 L411.4,61.3 L412.9,61.0 L414.4,60.7 L416.0,60.5 L417.5,60.2 L419.0,59.9 L420.5,59.7 L422.0,59.4 L423.5,59.2 L425.0,58.9 L426.5,58.6 L428.0,58.4 L429.5,58.1 L431.0,57.7 L432.5,57.4 L434.0,57.1 L435.5,56.7 L437.0,56.4 L438.6,56.0 L440.1,55.7 L441.6,55.3 L443.1,55.0 L444.6,54.7 L446.1,54.4 L447.6,54.1 L449.1,53.8 L450.6,53.5 L452.1,53.3 L453.6,53.0 L455.1,52.8 L456.6,52.5 L458.1,52.3 L459.6,52.0 L461.1,51.8 L462.7,51.6 L464.2,51.4 L465.7,51.2 L467.2,51.0 L468.7,50.9 L470.2,50.7 L471.7,50.6 L473.2,50.5 L474.7,50.4 L476.2,50.3 L477.7,50.2 L479.2,50.1 L480.7,50.0 L482.2,49.9 L483.7,49.8 L485.3,49.8 L486.8,49.8 L488.3,49.8 L489.8,49.9 L491.3,50.0 L492.8,50.1 L494.3,50.3 L495.8,50.5 L497.3,50.8 L498.8,51.2 L500.3,51.5 L501.8,52.0 L503.3,52.5 L504.8,53.0 L506.3,53.6 L507.8,54.3 L509.4,55.0 L510.9,55.7 L512.4,56.5 L513.9,57.3 L515.4,58.2 L516.9,59.2 L518.4,60.2 L519.9,61.2 L521.4,62.4 L522.9,63.5 L524.4,64.7 L525.9,66.0 L527.4,67.3 L528.9,68.7 L530.4,70.1 L532.0,71.5 L533.5,72.9 L535.0,74.4 L536.5,75.9 L538.0,77.5 L539.5,79.0 L541.0,80.6 L542.5,82.3 L544.0,83.9 L545.5,85.6 L547.0,87.3 L548.5,89.0 L550.0,90.8 L551.5,92.6 L553.0,94.4 L554.6,96.3 L556.1,98.3 L557.6,100.3 L559.1,102.4 L560.6,104.5 L562.1,106.7 L563.6,108.9 L565.1,111.2 L566.6,113.5 L568.1,115.8 L569.6,118.2 L571.1,120.6 L572.6,123.0 L574.1,125.5 L575.6,128.0 L577.1,130.5 L578.7,133.1 L580.2,135.8 L581.7,138.4 L583.2,141.1 L584.7,143.7 L586.2,146.3 L587.7,148.8 L589.2,151.3 L590.7,153.7 L592.2,156.0 L593.7,158.2 L595.2,160.4 L596.7,162.6 L598.2,164.7 L599.7,166.9 L601.3,169.0 L602.8,171.1 L604.3,173.3 L605.8,175.4" fill="none" stroke="#cfe8c2" stroke-width="1.4" stroke-dasharray="4,3.5" stroke-linejoin="round"/>
<path d="M55.9,167.3 L57.4,169.0 L58.9,170.7 L60.4,172.4 L61.9,174.0 L63.4,175.7 L64.9,177.3 L66.4,179.0 L68.0,180.6 L69.5,182.3 L71.0,183.9 L72.5,185.6 L74.0,187.4 L75.5,189.1 L77.0,190.9 L78.5,192.8 L80.0,194.6 L81.5,196.5 L83.0,198.4 L84.5,200.3 L86.0,202.1 L87.5,203.7 L89.0,205.3 L90.5,206.7 L92.1,208.0 L93.6,209.2 L95.1,210.3 L96.6,211.3 L98.1,212.3 L99.6,213.4 L101.1,214.5 L102.6,215.6 L104.1,216.8 L105.6,218.0 L107.1,219.2 L108.6,220.4 L110.1,221.6 L111.6,222.7 L113.1,223.8 L114.7,224.8 L116.2,225.8 L117.7,226.6 L119.2,227.4 L120.7,228.0 L122.2,228.6 L123.7,229.1 L125.2,229.5 L126.7,229.8 L128.2,230.0 L129.7,230.2 L131.2,230.4 L132.7,230.4 L134.2,230.5 L135.7,230.5 L137.3,230.4 L138.8,230.3 L140.3,230.1 L141.8,230.0 L143.3,229.8 L144.8,229.5 L146.3,229.3 L147.8,229.0 L149.3,228.7 L150.8,228.3 L152.3,228.0 L153.8,227.5 L155.3,227.0 L156.8,226.4 L158.3,225.7 L159.8,224.7 L161.4,223.6 L162.9,222.4 L164.4,221.0 L165.9,219.5 L167.4,218.0 L168.9,216.4 L170.4,214.9 L171.9,213.5 L173.4,212.0 L174.9,210.6 L176.4,209.1 L177.9,207.7 L179.4,206.2 L180.9,204.8 L182.4,203.4 L184.0,201.9 L185.5,200.6 L187.0,199.2 L188.5,197.9 L190.0,196.6 L191.5,195.3 L193.0,194.1 L194.5,192.8 L196.0,191.6 L197.5,190.4 L199.0,189.2 L200.5,188.0 L202.0,186.7 L203.5,185.4 L205.0,184.2 L206.6,182.9 L208.1,181.6 L209.6,180.2 L211.1,178.9 L212.6,177.5 L214.1,176.2 L215.6,174.8 L217.1,173.4 L218.6,172.1 L220.1,170.7 L221.6,169.3 L223.1,167.9 L224.6,166.5 L226.1,165.1 L227.6,163.7 L229.1,162.3 L230.7,160.9 L232.2,159.6 L233.7,158.2 L235.2,156.9 L236.7,155.5 L238.2,154.2 L239.7,152.9 L241.2,151.6 L242.7,150.4 L244.2,149.1 L245.7,147.9 L247.2,146.7 L248.7,145.5 L250.2,144.4 L251.7,143.2 L253.3,142.1 L254.8,140.9 L256.3,139.8 L257.8,138.7 L259.3,137.5 L260.8,136.4 L262.3,135.3 L263.8,134.2 L265.3,133.0 L266.8,131.9 L268.3,130.7 L269.8,129.5 L271.3,128.3 L272.8,127.1 L274.3,125.9 L275.8,124.6 L277.4,123.3 L278.9,122.1 L280.4,120.8 L281.9,119.4 L283.4,118.1 L284.9,116.7 L286.4,115.4 L287.9,114.0 L289.4,112.7 L290.9,111.3 L292.4,110.0 L293.9,108.6 L295.4,107.3 L296.9,105.9 L298.4,104.6 L300.0,103.3 L301.5,102.0 L303.0,100.7 L304.5,99.5 L306.0,98.2 L307.5,97.0 L309.0,95.8 L310.5,94.7 L312.0,93.5 L313.5,92.4 L315.0,91.3 L316.5,90.3 L318.0,89.2 L319.5,88.2 L321.0,87.2 L322.6,86.2 L324.1,85.2 L325.6,84.2 L327.1,83.3 L328.6,82.3 L330.1,81.4 L331.6,80.5 L333.1,79.6 L334.6,78.8 L336.1,77.9 L337.6,77.0 L339.1,76.2 L340.6,75.4 L342.1,74.5 L343.6,73.7 L345.1,72.9 L346.7,72.1 L348.2,71.3 L349.7,70.5 L351.2,69.7 L352.7,68.9 L354.2,68.1 L355.7,67.3 L357.2,66.5 L358.7,65.7 L360.2,64.9 L361.7,64.1 L363.2,63.3 L364.7,62.6 L366.2,61.8 L367.7,61.0 L369.3,60.2 L370.8,59.4 L372.3,58.7 L373.8,57.9 L375.3,57.2 L376.8,56.4 L378.3,55.7 L379.8,54.9 L381.3,54.2 L382.8,53.5 L384.3,52.8 L385.8,52.1 L387.3,51.4 L388.8,50.7 L390.3,50.0 L391.8,49.3 L393.4,48.7 L394.9,48.0 L396.4,47.4 L397.9,46.8 L399.4,46.3 L400.9,45.7 L402.4,45.2 L403.9,44.8 L405.4,44.3 L406.9,43.9 L408.4,43.5 L409.9,43.1 L411.4,42.7 L412.9,42.4 L414.4,42.1 L416.0,41.8 L417.5,41.4 L419.0,41.1 L420.5,40.8 L422.0,40.5 L423.5,40.2 L425.0,39.8 L426.5,39.5 L428.0,39.1 L429.5,38.7 L431.0,38.3 L432.5,37.8 L434.0,37.3 L435.5,36.8 L437.0,36.2 L438.6,35.6 L440.1,34.9 L441.6,34.2 L443.1,33.6 L444.6,33.0 L446.1,32.5 L447.6,32.1 L449.1,31.8 L450.6,31.8 L452.1,31.8 L453.6,32.0 L455.1,32.3 L456.6,32.8 L458.1,33.3 L459.6,33.8 L461.1,34.4 L462.7,35.1 L464.2,35.7 L465.7,36.3 L467.2,36.9 L468.7,37.5 L470.2,38.0 L471.7,38.5 L473.2,38.9 L474.7,39.3 L476.2,39.6 L477.7,39.9 L479.2,40.2 L480.7,40.4 L482.2,40.7 L483.7,40.9 L485.3,41.1 L486.8,41.4 L488.3,41.6 L489.8,41.9 L491.3,42.2 L492.8,42.6 L494.3,43.0 L495.8,43.4 L497.3,43.9 L498.8,44.4 L500.3,44.9 L501.8,45.5 L503.3,46.1 L504.8,46.8 L506.3,47.5 L507.8,48.2 L509.4,49.0 L510.9,49.8 L512.4,50.7 L513.9,51.6 L515.4,52.6 L516.9,53.6 L518.4,54.6 L519.9,55.7 L521.4,56.9 L522.9,58.1 L524.4,59.3 L525.9,60.7 L527.4,62.0 L528.9,63.5 L530.4,64.9 L532.0,66.4 L533.5,67.9 L535.0,69.5 L536.5,71.1 L538.0,72.7 L539.5,74.3 L541.0,75.9 L542.5,77.6 L544.0,79.2 L545.5,80.9 L547.0,82.5 L548.5,84.2 L550.0,85.9 L551.5,87.6 L553.0,89.3 L554.6,91.0 L556.1,92.8 L557.6,94.6 L559.1,96.4 L560.6,98.3 L562.1,100.1 L563.6,102.0 L565.1,103.9 L566.6,105.8 L568.1,107.7 L569.6,109.6 L571.1,111.5 L572.6,113.4 L574.1,115.4 L575.6,117.4 L577.1,119.4 L578.7,121.5 L580.2,123.7 L581.7,125.8 L583.2,128.0 L584.7,130.3 L586.2,132.5 L587.7,134.8 L589.2,137.1 L590.7,139.4 L592.2,141.7 L593.7,144.1 L595.2,146.5 L596.7,149.0 L598.2,151.6 L599.7,154.2 L601.3,157.0 L602.8,159.9 L604.3,162.8 L605.8,165.8" fill="none" stroke="#a8d594" stroke-width="1.1" stroke-linejoin="round"/>
<path d="M55.9,181.4 L57.4,183.1 L58.9,184.7 L60.4,186.3 L61.9,187.9 L63.4,189.5 L64.9,191.1 L66.4,192.7 L68.0,194.3 L69.5,195.8 L71.0,197.4 L72.5,198.9 L74.0,200.4 L75.5,201.9 L77.0,203.4 L78.5,204.9 L80.0,206.3 L81.5,207.8 L83.0,209.2 L84.5,210.5 L86.0,211.8 L87.5,213.1 L89.0,214.2 L90.5,215.3 L92.1,216.4 L93.6,217.4 L95.1,218.3 L96.6,219.2 L98.1,220.1 L99.6,221.0 L101.1,221.9 L102.6,222.8 L104.1,223.6 L105.6,224.5 L107.1,225.3 L108.6,226.1 L110.1,226.9 L111.6,227.7 L113.1,228.5 L114.7,229.3 L116.2,230.0 L117.7,230.6 L119.2,231.2 L120.7,231.8 L122.2,232.3 L123.7,232.7 L125.2,233.1 L126.7,233.4 L128.2,233.6 L129.7,233.8 L131.2,234.0 L132.7,234.1 L134.2,234.2 L135.7,234.3 L137.3,234.4 L138.8,234.4 L140.3,234.3 L141.8,234.3 L143.3,234.2 L144.8,234.0 L146.3,233.7 L147.8,233.4 L149.3,233.0 L150.8,232.6 L152.3,232.0 L153.8,231.3 L155.3,230.6 L156.8,229.7 L158.3,228.7 L159.8,227.7 L161.4,226.6 L162.9,225.4 L164.4,224.2 L165.9,222.9 L167.4,221.6 L168.9,220.3 L170.4,218.9 L171.9,217.6 L173.4,216.2 L174.9,214.8 L176.4,213.4 L177.9,212.1 L179.4,210.8 L180.9,209.4 L182.4,208.2 L184.0,206.9 L185.5,205.7 L187.0,204.5 L188.5,203.4 L190.0,202.4 L191.5,201.3 L193.0,200.3 L194.5,199.4 L196.0,198.4 L197.5,197.5 L199.0,196.6 L200.5,195.7 L202.0,194.8 L203.5,193.9 L205.0,193.0 L206.6,192.0 L208.1,191.1 L209.6,190.2 L211.1,189.2 L212.6,188.2 L214.1,187.2 L215.6,186.2 L217.1,185.2 L218.6,184.1 L220.1,183.0 L221.6,181.9 L223.1,180.8 L224.6,179.6 L226.1,178.4 L227.6,177.3 L229.1,176.1 L230.7,174.8 L232.2,173.6 L233.7,172.4 L235.2,171.1 L236.7,169.9 L238.2,168.6 L239.7,167.3 L241.2,166.1 L242.7,164.8 L244.2,163.5 L245.7,162.2 L247.2,160.9 L248.7,159.6 L250.2,158.3 L251.7,157.0 L253.3,155.7 L254.8,154.4 L256.3,153.1 L257.8,151.8 L259.3,150.5 L260.8,149.1 L262.3,147.8 L263.8,146.5 L265.3,145.1 L266.8,143.7 L268.3,142.4 L269.8,141.0 L271.3,139.6 L272.8,138.3 L274.3,136.9 L275.8,135.5 L277.4,134.2 L278.9,132.8 L280.4,131.5 L281.9,130.1 L283.4,128.8 L284.9,127.5 L286.4,126.2 L287.9,125.0 L289.4,123.7 L290.9,122.5 L292.4,121.3 L293.9,120.1 L295.4,118.9 L296.9,117.7 L298.4,116.5 L300.0,115.3 L301.5,114.2 L303.0,113.0 L304.5,111.9 L306.0,110.7 L307.5,109.6 L309.0,108.5 L310.5,107.4 L312.0,106.3 L313.5,105.2 L315.0,104.1 L316.5,103.0 L318.0,101.9 L319.5,100.8 L321.0,99.8 L322.6,98.7 L324.1,97.7 L325.6,96.6 L327.1,95.6 L328.6,94.6 L330.1,93.6 L331.6,92.6 L333.1,91.7 L334.6,90.7 L336.1,89.7 L337.6,88.8 L339.1,87.9 L340.6,86.9 L342.1,86.0 L343.6,85.1 L345.1,84.2 L346.7,83.3 L348.2,82.4 L349.7,81.5 L351.2,80.6 L352.7,79.8 L354.2,78.9 L355.7,78.0 L357.2,77.2 L358.7,76.3 L360.2,75.4 L361.7,74.6 L363.2,73.8 L364.7,72.9 L366.2,72.1 L367.7,71.3 L369.3,70.4 L370.8,69.6 L372.3,68.8 L373.8,68.0 L375.3,67.2 L376.8,66.4 L378.3,65.6 L379.8,64.8 L381.3,64.0 L382.8,63.3 L384.3,62.5 L385.8,61.7 L387.3,61.0 L388.8,60.2 L390.3,59.5 L391.8,58.8 L393.4,58.1 L394.9,57.4 L396.4,56.7 L397.9,56.0 L399.4,55.4 L400.9,54.8 L402.4,54.2 L403.9,53.6 L405.4,53.1 L406.9,52.6 L408.4,52.1 L409.9,51.6 L411.4,51.2 L412.9,50.7 L414.4,50.3 L416.0,49.9 L417.5,49.4 L419.0,49.0 L420.5,48.6 L422.0,48.2 L423.5,47.8 L425.0,47.4 L426.5,46.9 L428.0,46.5 L429.5,46.1 L431.0,45.6 L432.5,45.2 L434.0,44.8 L435.5,44.3 L437.0,43.9 L438.6,43.5 L440.1,43.1 L441.6,42.7 L443.1,42.4 L444.6,42.1 L446.1,41.8 L447.6,41.5 L449.1,41.3 L450.6,41.1 L452.1,41.0 L453.6,40.9 L455.1,40.8 L456.6,40.8 L458.1,40.7 L459.6,40.8 L461.1,40.8 L462.7,40.9 L464.2,41.0 L465.7,41.1 L467.2,41.3 L468.7,41.5 L470.2,41.7 L471.7,42.0 L473.2,42.2 L474.7,42.5 L476.2,42.8 L477.7,43.0 L479.2,43.3 L480.7,43.6 L482.2,43.9 L483.7,44.2 L485.3,44.5 L486.8,44.8 L488.3,45.1 L489.8,45.5 L491.3,45.8 L492.8,46.2 L494.3,46.7 L495.8,47.1 L497.3,47.6 L498.8,48.2 L500.3,48.8 L501.8,49.4 L503.3,50.1 L504.8,50.8 L506.3,51.6 L507.8,52.5 L509.4,53.3 L510.9,54.2 L512.4,55.1 L513.9,56.1 L515.4,57.1 L516.9,58.2 L518.4,59.2 L519.9,60.3 L521.4,61.5 L522.9,62.6 L524.4,63.8 L525.9,65.1 L527.4,66.4 L528.9,67.7 L530.4,69.0 L532.0,70.4 L533.5,71.8 L535.0,73.3 L536.5,74.8 L538.0,76.3 L539.5,77.8 L541.0,79.3 L542.5,80.9 L544.0,82.5 L545.5,84.1 L547.0,85.7 L548.5,87.3 L550.0,88.9 L551.5,90.6 L553.0,92.4 L554.6,94.1 L556.1,95.9 L557.6,97.8 L559.1,99.8 L560.6,101.7 L562.1,103.8 L563.6,105.8 L565.1,108.0 L566.6,110.1 L568.1,112.3 L569.6,114.5 L571.1,116.8 L572.6,119.1 L574.1,121.5 L575.6,124.0 L577.1,126.5 L578.7,129.1 L580.2,131.8 L581.7,134.5 L583.2,137.3 L584.7,140.0 L586.2,142.8 L587.7,145.5 L589.2,148.1 L590.7,150.7 L592.2,153.2 L593.7,155.6 L595.2,158.0 L596.7,160.2 L598.2,162.4 L599.7,164.6 L601.3,166.7 L602.8,168.8 L604.3,170.9 L605.8,173.0" fill="none" stroke="#2eb24c" stroke-width="1.3" stroke-linejoin="round"/>
<path d="M55.9,183.8 L57.4,184.9 L58.9,185.9 L60.4,186.9 L61.9,187.9 L63.4,188.9 L64.9,190.0 L66.4,191.1 L68.0,192.3 L69.5,193.5 L71.0,194.8 L72.5,196.2 L74.0,197.7 L75.5,199.2 L77.0,200.7 L78.5,202.3 L80.0,203.8 L81.5,205.4 L83.0,206.9 L84.5,208.4 L86.0,209.8 L87.5,211.2 L89.0,212.5 L90.5,213.7 L92.1,214.8 L93.6,215.9 L95.1,216.9 L96.6,217.9 L98.1,218.8 L99.6,219.7 L101.1,220.6 L102.6,221.4 L104.1,222.2 L105.6,223.0 L107.1,223.7 L108.6,224.4 L110.1,225.1 L111.6,225.8 L113.1,226.4 L114.7,226.9 L116.2,227.5 L117.7,228.0 L119.2,228.4 L120.7,228.7 L122.2,229.0 L123.7,229.1 L125.2,229.2 L126.7,229.3 L128.2,229.2 L129.7,229.1 L131.2,229.0 L132.7,228.9 L134.2,228.7 L135.7,228.5 L137.3,228.3 L138.8,228.1 L140.3,227.8 L141.8,227.5 L143.3,227.1 L144.8,226.7 L146.3,226.3 L147.8,225.8 L149.3,225.3 L150.8,224.7 L152.3,224.0 L153.8,223.3 L155.3,222.5 L156.8,221.7 L158.3,220.8 L159.8,219.8 L161.4,218.8 L162.9,217.9 L164.4,216.9 L165.9,216.0 L167.4,215.0 L168.9,214.1 L170.4,213.2 L171.9,212.2 L173.4,211.2 L174.9,210.2 L176.4,209.1 L177.9,208.0 L179.4,206.9 L180.9,205.7 L182.4,204.6 L184.0,203.5 L185.5,202.4 L187.0,201.3 L188.5,200.3 L190.0,199.3 L191.5,198.3 L193.0,197.3 L194.5,196.4 L196.0,195.5 L197.5,194.6 L199.0,193.6 L200.5,192.7 L202.0,191.8 L203.5,190.8 L205.0,189.8 L206.6,188.9 L208.1,187.9 L209.6,186.8 L211.1,185.8 L212.6,184.7 L214.1,183.6 L215.6,182.5 L217.1,181.4 L218.6,180.2 L220.1,179.0 L221.6,177.8 L223.1,176.6 L224.6,175.3 L226.1,174.1 L227.6,172.8 L229.1,171.4 L230.7,170.1 L232.2,168.8 L233.7,167.4 L235.2,166.1 L236.7,164.7 L238.2,163.4 L239.7,162.0 L241.2,160.7 L242.7,159.3 L244.2,158.0 L245.7,156.7 L247.2,155.4 L248.7,154.1 L250.2,152.8 L251.7,151.5 L253.3,150.2 L254.8,149.0 L256.3,147.7 L257.8,146.5 L259.3,145.3 L260.8,144.0 L262.3,142.8 L263.8,141.6 L265.3,140.4 L266.8,139.1 L268.3,137.9 L269.8,136.7 L271.3,135.5 L272.8,134.2 L274.3,133.0 L275.8,131.7 L277.4,130.5 L278.9,129.2 L280.4,128.0 L281.9,126.7 L283.4,125.4 L284.9,124.2 L286.4,122.9 L287.9,121.6 L289.4,120.3 L290.9,119.0 L292.4,117.7 L293.9,116.4 L295.4,115.1 L296.9,113.8 L298.4,112.5 L300.0,111.2 L301.5,109.9 L303.0,108.6 L304.5,107.3 L306.0,106.0 L307.5,104.7 L309.0,103.4 L310.5,102.1 L312.0,100.8 L313.5,99.6 L315.0,98.4 L316.5,97.2 L318.0,96.0 L319.5,94.8 L321.0,93.6 L322.6,92.5 L324.1,91.4 L325.6,90.2 L327.1,89.2 L328.6,88.1 L330.1,87.0 L331.6,85.9 L333.1,84.9 L334.6,83.9 L336.1,82.8 L337.6,81.8 L339.1,80.8 L340.6,79.8 L342.1,78.9 L343.6,77.9 L345.1,76.9 L346.7,76.0 L348.2,75.0 L349.7,74.1 L351.2,73.2 L352.7,72.2 L354.2,71.3 L355.7,70.4 L357.2,69.6 L358.7,68.7 L360.2,67.8 L361.7,67.0 L363.2,66.1 L364.7,65.3 L366.2,64.5 L367.7,63.7 L369.3,62.9 L370.8,62.1 L372.3,61.3 L373.8,60.6 L375.3,59.8 L376.8,59.1 L378.3,58.4 L379.8,57.6 L381.3,56.9 L382.8,56.2 L384.3,55.5 L385.8,54.9 L387.3,54.2 L388.8,53.5 L390.3,52.9 L391.8,52.3 L393.4,51.7 L394.9,51.1 L396.4,50.5 L397.9,49.9 L399.4,49.4 L400.9,48.9 L402.4,48.5 L403.9,48.0 L405.4,47.6 L406.9,47.2 L408.4,46.9 L409.9,46.5 L411.4,46.2 L412.9,45.9 L414.4,45.6 L416.0,45.3 L417.5,45.0 L419.0,44.7 L420.5,44.4 L422.0,44.1 L423.5,43.8 L425.0,43.6 L426.5,43.3 L428.0,43.0 L429.5,42.7 L431.0,42.4 L432.5,42.0 L434.0,41.7 L435.5,41.4 L437.0,41.1 L438.6,40.8 L440.1,40.6 L441.6,40.3 L443.1,40.1 L444.6,39.9 L446.1,39.7 L447.6,39.6 L449.1,39.5 L450.6,39.4 L452.1,39.4 L453.6,39.5 L455.1,39.6 L456.6,39.7 L458.1,39.8 L459.6,40.0 L461.1,40.2 L462.7,40.5 L464.2,40.7 L465.7,41.0 L467.2,41.3 L468.7,41.5 L470.2,41.8 L471.7,42.0 L473.2,42.2 L474.7,42.4 L476.2,42.6 L477.7,42.7 L479.2,42.8 L480.7,42.9 L482.2,43.0 L483.7,43.1 L485.3,43.2 L486.8,43.3 L488.3,43.5 L489.8,43.6 L491.3,43.8 L492.8,44.1 L494.3,44.3 L495.8,44.6 L497.3,44.9 L498.8,45.3 L500.3,45.7 L501.8,46.1 L503.3,46.6 L504.8,47.1 L506.3,47.6 L507.8,48.2 L509.4,48.8 L510.9,49.5 L512.4,50.1 L513.9,50.9 L515.4,51.6 L516.9,52.5 L518.4,53.3 L519.9,54.3 L521.4,55.2 L522.9,56.3 L524.4,57.4 L525.9,58.5 L527.4,59.7 L528.9,61.0 L530.4,62.3 L532.0,63.6 L533.5,65.0 L535.0,66.5 L536.5,67.9 L538.0,69.4 L539.5,71.0 L541.0,72.6 L542.5,74.2 L544.0,75.8 L545.5,77.4 L547.0,79.1 L548.5,80.8 L550.0,82.5 L551.5,84.2 L553.0,85.9 L554.6,87.7 L556.1,89.5 L557.6,91.4 L559.1,93.3 L560.6,95.2 L562.1,97.2 L563.6,99.2 L565.1,101.2 L566.6,103.2 L568.1,105.2 L569.6,107.3 L571.1,109.3 L572.6,111.5 L574.1,113.6 L575.6,115.8 L577.1,118.1 L578.7,120.4 L580.2,122.8 L581.7,125.3 L583.2,127.8 L584.7,130.3 L586.2,132.9 L587.7,135.4 L589.2,138.0 L590.7,140.5 L592.2,143.0 L593.7,145.6 L595.2,148.1 L596.7,150.6 L598.2,153.1 L599.7,155.5 L601.3,157.9 L602.8,160.3 L604.3,162.6 L605.8,164.9" fill="none" stroke="#33b856" stroke-width="2.0" stroke-dasharray="4.5,3.5" stroke-linejoin="round"/>
<path d="M55.9,208.5 L57.4,209.7 L58.9,211.0 L60.4,212.2 L61.9,213.5 L63.4,214.8 L64.9,216.0 L66.4,217.3 L68.0,218.6 L69.5,219.9 L71.0,221.1 L72.5,222.4 L74.0,223.6 L75.5,224.9 L77.0,226.1 L78.5,227.3 L80.0,228.5 L81.5,229.6 L83.0,230.8 L84.5,231.9 L86.0,232.9 L87.5,233.9 L89.0,234.8 L90.5,235.7 L92.1,236.4 L93.6,237.1 L95.1,237.8 L96.6,238.4 L98.1,239.0 L99.6,239.6 L101.1,240.1 L102.6,240.6 L104.1,241.1 L105.6,241.6 L107.1,242.1 L108.6,242.5 L110.1,243.0 L111.6,243.4 L113.1,243.7 L114.7,244.1 L116.2,244.4 L117.7,244.7 L119.2,245.0 L120.7,245.2 L122.2,245.4 L123.7,245.6 L125.2,245.7 L126.7,245.9 L128.2,245.9 L129.7,246.0 L131.2,246.0 L132.7,245.9 L134.2,245.9 L135.7,245.8 L137.3,245.6 L138.8,245.5 L140.3,245.3 L141.8,245.1 L143.3,244.9 L144.8,244.7 L146.3,244.4 L147.8,244.2 L149.3,243.9 L150.8,243.7 L152.3,243.5 L153.8,243.3 L155.3,243.0 L156.8,242.8 L158.3,242.4 L159.8,242.1 L161.4,241.6 L162.9,241.1 L164.4,240.5 L165.9,239.8 L167.4,239.0 L168.9,238.2 L170.4,237.2 L171.9,236.2 L173.4,235.1 L174.9,233.9 L176.4,232.6 L177.9,231.4 L179.4,230.1 L180.9,228.8 L182.4,227.6 L184.0,226.4 L185.5,225.3 L187.0,224.3 L188.5,223.3 L190.0,222.5 L191.5,221.7 L193.0,220.9 L194.5,220.2 L196.0,219.6 L197.5,218.9 L199.0,218.3 L200.5,217.6 L202.0,217.0 L203.5,216.2 L205.0,215.4 L206.6,214.5 L208.1,213.6 L209.6,212.5 L211.1,211.3 L212.6,210.1 L214.1,208.8 L215.6,207.4 L217.1,206.0 L218.6,204.6 L220.1,203.2" fill="none" stroke="#333333" stroke-width="1.3" stroke-dasharray="4,3" stroke-linejoin="round"/>
<path d="M55.9,193.8 L57.4,195.9 L58.9,197.9 L60.4,199.9 L61.9,202.0 L63.4,204.0 L64.9,206.0 L66.4,207.9 L68.0,209.9 L69.5,211.8 L71.0,213.6 L72.5,215.5 L74.0,217.2 L75.5,219.0 L77.0,220.7 L78.5,222.4 L80.0,224.0 L81.5,225.6 L83.0,227.2 L84.5,228.6 L86.0,230.0 L87.5,231.3 L89.0,232.5 L90.5,233.6 L92.1,234.6 L93.6,235.5 L95.1,236.3 L96.6,237.1 L98.1,237.8 L99.6,238.4 L101.1,239.1 L102.6,239.7 L104.1,240.2 L105.6,240.8 L107.1,241.3 L108.6,241.7 L110.1,242.2 L111.6,242.6 L113.1,243.0 L114.7,243.4 L116.2,243.8 L117.7,244.2 L119.2,244.5 L120.7,244.8 L122.2,245.1 L123.7,245.3 L125.2,245.5 L126.7,245.7 L128.2,245.9 L129.7,246.0 L131.2,246.1 L132.7,246.2 L134.2,246.2 L135.7,246.3 L137.3,246.3 L138.8,246.2 L140.3,246.2 L141.8,246.1 L143.3,246.0 L144.8,245.8 L146.3,245.5 L147.8,245.2 L149.3,244.8 L150.8,244.3 L152.3,243.7 L153.8,243.0 L155.3,242.2 L156.8,241.4 L158.3,240.6 L159.8,239.8 L161.4,239.1 L162.9,238.5 L164.4,237.9 L165.9,237.3 L167.4,236.6 L168.9,235.9 L170.4,235.1 L171.9,234.2 L173.4,233.2 L174.9,232.2 L176.4,231.1 L177.9,229.9 L179.4,228.7 L180.9,227.5 L182.4,226.3 L184.0,225.1 L185.5,223.9 L187.0,222.7 L188.5,221.5 L190.0,220.4 L191.5,219.3 L193.0,218.2 L194.5,217.1 L196.0,216.1 L197.5,215.0 L199.0,213.9 L200.5,212.9 L202.0,211.8 L203.5,210.8 L205.0,209.8 L206.6,208.7 L208.1,207.7 L209.6,206.7 L211.1,205.7 L212.6,204.7 L214.1,203.6 L215.6,202.6 L217.1,201.6 L218.6,200.6 L220.1,199.5 L221.6,198.5 L223.1,197.4 L224.6,196.3 L226.1,195.2 L227.6,194.1 L229.1,192.9 L230.7,191.8 L232.2,190.6 L233.7,189.4 L235.2,188.1 L236.7,186.9 L238.2,185.6 L239.7,184.2 L241.2,182.9 L242.7,181.5 L244.2,180.0 L245.7,178.5 L247.2,177.0 L248.7,175.4 L250.2,173.8 L251.7,172.2 L253.3,170.6 L254.8,169.0 L256.3,167.3 L257.8,165.7 L259.3,164.0 L260.8,162.4 L262.3,160.8 L263.8,159.2 L265.3,157.6 L266.8,156.1 L268.3,154.6 L269.8,153.1 L271.3,151.7 L272.8,150.2 L274.3,148.8 L275.8,147.4 L277.4,146.1 L278.9,144.7 L280.4,143.4 L281.9,142.1 L283.4,140.8 L284.9,139.5 L286.4,138.2 L287.9,137.0 L289.4,135.7 L290.9,134.5 L292.4,133.2 L293.9,132.0 L295.4,130.8 L296.9,129.6 L298.4,128.3 L300.0,127.1 L301.5,125.9 L303.0,124.6 L304.5,123.4 L306.0,122.1 L307.5,120.8 L309.0,119.5 L310.5,118.2 L312.0,116.9 L313.5,115.6 L315.0,114.3 L316.5,113.0 L318.0,111.7 L319.5,110.4 L321.0,109.1 L322.6,107.8 L324.1,106.6 L325.6,105.3 L327.1,104.1 L328.6,102.9 L330.1,101.7 L331.6,100.5 L333.1,99.4 L334.6,98.3 L336.1,97.2 L337.6,96.2 L339.1,95.2 L340.6,94.2 L342.1,93.3 L343.6,92.3 L345.1,91.4 L346.7,90.5 L348.2,89.7 L349.7,88.8 L351.2,88.0 L352.7,87.1 L354.2,86.3 L355.7,85.5 L357.2,84.7 L358.7,83.9 L360.2,83.1 L361.7,82.3 L363.2,81.6 L364.7,80.8 L366.2,80.1 L367.7,79.3 L369.3,78.6 L370.8,77.9 L372.3,77.2 L373.8,76.5 L375.3,75.8 L376.8,75.2 L378.3,74.5 L379.8,73.9 L381.3,73.2 L382.8,72.6 L384.3,72.0 L385.8,71.3 L387.3,70.7 L388.8,70.1 L390.3,69.6 L391.8,69.0 L393.4,68.4 L394.9,67.9 L396.4,67.4 L397.9,66.9 L399.4,66.4 L400.9,65.9 L402.4,65.5 L403.9,65.1 L405.4,64.7 L406.9,64.4 L408.4,64.0 L409.9,63.7 L411.4,63.3 L412.9,63.0 L414.4,62.6 L416.0,62.3 L417.5,61.9 L419.0,61.6 L420.5,61.3 L422.0,61.0 L423.5,60.7 L425.0,60.5 L426.5,60.4 L428.0,60.3 L429.5,60.3 L431.0,60.4 L432.5,60.6 L434.0,61.0 L435.5,61.3 L437.0,61.7 L438.6,62.1 L440.1,62.3 L441.6,62.4 L443.1,62.3 L444.6,62.1 L446.1,61.8 L447.6,61.4 L449.1,60.9 L450.6,60.3 L452.1,59.8 L453.6,59.2 L455.1,58.6 L456.6,58.1 L458.1,57.5 L459.6,57.0 L461.1,56.6 L462.7,56.2 L464.2,55.9 L465.7,55.7 L467.2,55.6 L468.7,55.5 L470.2,55.6 L471.7,55.7 L473.2,55.9 L474.7,56.2 L476.2,56.5 L477.7,56.8 L479.2,57.2 L480.7,57.6 L482.2,58.0 L483.7,58.4 L485.3,58.9 L486.8,59.4 L488.3,59.9 L489.8,60.4 L491.3,60.9 L492.8,61.5 L494.3,62.0 L495.8,62.6 L497.3,63.1 L498.8,63.7 L500.3,64.3 L501.8,64.9 L503.3,65.6 L504.8,66.2 L506.3,67.0 L507.8,67.7 L509.4,68.5 L510.9,69.3 L512.4,70.1 L513.9,71.0 L515.4,72.0 L516.9,73.0 L518.4,74.0 L519.9,75.1 L521.4,76.2 L522.9,77.4 L524.4,78.6 L525.9,79.9 L527.4,81.2 L528.9,82.6 L530.4,84.0 L532.0,85.5 L533.5,87.0 L535.0,88.5 L536.5,90.0 L538.0,91.5 L539.5,93.1 L541.0,94.6 L542.5,96.2 L544.0,97.7 L545.5,99.2 L547.0,100.7 L548.5,102.2 L550.0,103.7 L551.5,105.2 L553.0,106.8 L554.6,108.5 L556.1,110.2 L557.6,112.0 L559.1,113.8 L560.6,115.8 L562.1,117.9 L563.6,120.1 L565.1,122.3 L566.6,124.7 L568.1,127.2 L569.6,129.7 L571.1,132.4 L572.6,135.2 L574.1,138.1 L575.6,141.1 L577.1,144.3 L578.7,147.6 L580.2,151.1 L581.7,154.8 L583.2,158.6 L584.7,162.5 L586.2,166.5 L587.7,170.6 L589.2,174.5 L590.7,178.3 L592.2,181.9 L593.7,185.3 L595.2,188.4 L596.7,191.3 L598.2,194.1 L599.7,196.8 L601.3,199.4 L602.8,201.9 L604.3,204.4 L605.8,206.9" fill="none" stroke="#222222" stroke-width="1.3" stroke-linejoin="round"/>
<path d="M55.9,205.1 L57.4,206.5 L58.9,207.8 L60.4,209.2 L61.9,210.6 L63.4,212.0 L64.9,213.5 L66.4,214.9 L68.0,216.5 L69.5,218.0 L71.0,219.5 L72.5,221.1 L74.0,222.6 L75.5,224.2 L77.0,225.7 L78.5,227.2 L80.0,228.7 L81.5,230.1 L83.0,231.5 L84.5,232.9 L86.0,234.1 L87.5,235.3 L89.0,236.3 L90.5,237.3 L92.1,238.1 L93.6,238.8 L95.1,239.5 L96.6,240.1 L98.1,240.6 L99.6,241.1 L101.1,241.6 L102.6,242.0 L104.1,242.4 L105.6,242.8 L107.1,243.1 L108.6,243.5 L110.1,243.8 L111.6,244.1 L113.1,244.4 L114.7,244.7 L116.2,244.9 L117.7,245.2 L119.2,245.5 L120.7,245.8 L122.2,246.1 L123.7,246.5 L125.2,246.8 L126.7,247.1 L128.2,247.4 L129.7,247.7 L131.2,248.0 L132.7,248.2 L134.2,248.4 L135.7,248.6 L137.3,248.7 L138.8,248.8 L140.3,248.8 L141.8,248.9 L143.3,248.9 L144.8,248.9 L146.3,248.8 L147.8,248.8 L149.3,248.7 L150.8,248.6 L152.3,248.5 L153.8,248.4 L155.3,248.2 L156.8,248.1 L158.3,247.8 L159.8,247.5 L161.4,247.1 L162.9,246.7 L164.4,246.1 L165.9,245.4 L167.4,244.7 L168.9,243.9 L170.4,242.9 L171.9,241.9 L173.4,240.8 L174.9,239.6 L176.4,238.4 L177.9,237.1 L179.4,235.8 L180.9,234.5 L182.4,233.3 L184.0,232.1 L185.5,230.9 L187.0,229.8 L188.5,228.8 L190.0,227.8 L191.5,226.9 L193.0,226.1 L194.5,225.3 L196.0,224.5 L197.5,223.8 L199.0,223.1 L200.5,222.3 L202.0,221.5 L203.5,220.8 L205.0,220.0 L206.6,219.1 L208.1,218.2 L209.6,217.3 L211.1,216.3 L212.6,215.2 L214.1,214.0 L215.6,212.8 L217.1,211.5 L218.6,210.2 L220.1,208.8 L221.6,207.3 L223.1,205.7 L224.6,204.2 L226.1,202.5 L227.6,200.9 L229.1,199.2 L230.7,197.5 L232.2,195.8 L233.7,194.0 L235.2,192.3 L236.7,190.6 L238.2,189.0 L239.7,187.3 L241.2,185.7 L242.7,184.1 L244.2,182.5 L245.7,181.0 L247.2,179.4 L248.7,177.9 L250.2,176.4 L251.7,174.9 L253.3,173.4 L254.8,172.0 L256.3,170.5 L257.8,169.1 L259.3,167.6 L260.8,166.2 L262.3,164.8 L263.8,163.4 L265.3,162.0 L266.8,160.6 L268.3,159.2 L269.8,157.8 L271.3,156.4 L272.8,155.0 L274.3,153.7 L275.8,152.3 L277.4,151.0 L278.9,149.7 L280.4,148.4 L281.9,147.1 L283.4,145.8 L284.9,144.5 L286.4,143.3 L287.9,142.1 L289.4,140.9 L290.9,139.7 L292.4,138.5 L293.9,137.3 L295.4,136.2 L296.9,135.0 L298.4,133.9 L300.0,132.7 L301.5,131.6 L303.0,130.5 L304.5,129.3 L306.0,128.2 L307.5,127.0 L309.0,125.9 L310.5,124.7 L312.0,123.5 L313.5,122.4 L315.0,121.2 L316.5,120.0 L318.0,118.9 L319.5,117.7 L321.0,116.5 L322.6,115.4 L324.1,114.2 L325.6,113.1 L327.1,111.9 L328.6,110.8 L330.1,109.7 L331.6,108.5 L333.1,107.4 L334.6,106.3 L336.1,105.3 L337.6,104.2 L339.1,103.1 L340.6,102.1 L342.1,101.0 L343.6,100.0 L345.1,99.0 L346.7,97.9 L348.2,96.9 L349.7,95.9 L351.2,95.0 L352.7,94.0 L354.2,93.0 L355.7,92.1 L357.2,91.1 L358.7,90.2 L360.2,89.3 L361.7,88.4 L363.2,87.4 L364.7,86.5 L366.2,85.6 L367.7,84.7 L369.3,83.9 L370.8,83.0 L372.3,82.1 L373.8,81.3 L375.3,80.4 L376.8,79.6 L378.3,78.7 L379.8,77.9 L381.3,77.1 L382.8,76.3 L384.3,75.5 L385.8,74.7 L387.3,74.0 L388.8,73.2 L390.3,72.5 L391.8,71.7 L393.4,71.0 L394.9,70.3 L396.4,69.6 L397.9,69.0 L399.4,68.4 L400.9,67.8 L402.4,67.2 L403.9,66.7 L405.4,66.2 L406.9,65.7 L408.4,65.2 L409.9,64.8 L411.4,64.3 L412.9,63.9 L414.4,63.5 L416.0,63.2 L417.5,62.8 L419.0,62.4 L420.5,62.1 L422.0,61.8 L423.5,61.4 L425.0,61.1 L426.5,60.8 L428.0,60.5 L429.5,60.1 L431.0,59.8 L432.5,59.5 L434.0,59.1 L435.5,58.8 L437.0,58.5 L438.6,58.2 L440.1,57.9 L441.6,57.7 L443.1,57.4 L444.6,57.2 L446.1,57.1 L447.6,56.9 L449.1,56.8 L450.6,56.7 L452.1,56.7 L453.6,56.7 L455.1,56.7 L456.6,56.8 L458.1,56.9 L459.6,57.0 L461.1,57.2 L462.7,57.4 L464.2,57.6 L465.7,57.8 L467.2,58.1 L468.7,58.3 L470.2,58.6 L471.7,58.8 L473.2,59.0 L474.7,59.3 L476.2,59.5 L477.7,59.7 L479.2,59.8 L480.7,60.0 L482.2,60.2 L483.7,60.4 L485.3,60.5 L486.8,60.7 L488.3,60.9 L489.8,61.1 L491.3,61.4 L492.8,61.6 L494.3,61.9 L495.8,62.2 L497.3,62.6 L498.8,63.0 L500.3,63.4 L501.8,63.9 L503.3,64.4 L504.8,65.0 L506.3,65.6 L507.8,66.3 L509.4,66.9 L510.9,67.7 L512.4,68.5 L513.9,69.3 L515.4,70.2 L516.9,71.1 L518.4,72.1 L519.9,73.1 L521.4,74.2 L522.9,75.4 L524.4,76.6 L525.9,77.9 L527.4,79.3 L528.9,80.7 L530.4,82.1 L532.0,83.6 L533.5,85.1 L535.0,86.7 L536.5,88.3 L538.0,89.9 L539.5,91.6 L541.0,93.3 L542.5,95.1 L544.0,96.8 L545.5,98.6 L547.0,100.5 L548.5,102.3 L550.0,104.2 L551.5,106.2 L553.0,108.1 L554.6,110.2 L556.1,112.2 L557.6,114.4 L559.1,116.5 L560.6,118.7 L562.1,121.0 L563.6,123.3 L565.1,125.6 L566.6,127.9 L568.1,130.2 L569.6,132.5 L571.1,134.9 L572.6,137.2 L574.1,139.6 L575.6,142.0 L577.1,144.5 L578.7,146.9 L580.2,149.5 L581.7,152.0 L583.2,154.5 L584.7,157.0 L586.2,159.5 L587.7,162.0 L589.2,164.4 L590.7,166.9 L592.2,169.3 L593.7,171.7 L595.2,174.2 L596.7,176.6 L598.2,179.0 L599.7,181.5 L601.3,183.9 L602.8,186.4 L604.3,188.8 L605.8,191.3" fill="none" stroke="#45a6de" stroke-width="1.8" stroke-dasharray="4.5,3.5" stroke-linejoin="round"/>
<path d="M55.9,184.1 L57.4,186.3 L58.9,188.5 L60.4,190.7 L61.9,192.9 L63.4,195.1 L64.9,197.2 L66.4,199.4 L68.0,201.5 L69.5,203.7 L71.0,205.7 L72.5,207.8 L74.0,209.8 L75.5,211.8 L77.0,213.8 L78.5,215.6 L80.0,217.5 L81.5,219.2 L83.0,220.9 L84.5,222.5 L86.0,224.0 L87.5,225.4 L89.0,226.7 L90.5,227.8 L92.1,228.9 L93.6,229.8 L95.1,230.7 L96.6,231.5 L98.1,232.3 L99.6,233.0 L101.1,233.7 L102.6,234.3 L104.1,234.9 L105.6,235.5 L107.1,236.0 L108.6,236.6 L110.1,237.1 L111.6,237.6 L113.1,238.1 L114.7,238.5 L116.2,239.0 L117.7,239.4 L119.2,239.8 L120.7,240.2 L122.2,240.6 L123.7,241.0 L125.2,241.4 L126.7,241.7 L128.2,242.0 L129.7,242.2 L131.2,242.4 L132.7,242.5 L134.2,242.6 L135.7,242.7 L137.3,242.7 L138.8,242.7 L140.3,242.7 L141.8,242.6 L143.3,242.5 L144.8,242.3 L146.3,242.0 L147.8,241.6 L149.3,241.2 L150.8,240.5 L152.3,239.8 L153.8,238.8 L155.3,237.8 L156.8,236.6 L158.3,235.5 L159.8,234.4 L161.4,233.3 L162.9,232.3 L164.4,231.3 L165.9,230.4 L167.4,229.4 L168.9,228.3 L170.4,227.2 L171.9,226.1 L173.4,224.8 L174.9,223.5 L176.4,222.1 L177.9,220.7 L179.4,219.3 L180.9,217.8 L182.4,216.3 L184.0,214.9 L185.5,213.4 L187.0,212.0 L188.5,210.7 L190.0,209.3 L191.5,208.0 L193.0,206.7 L194.5,205.4 L196.0,204.2 L197.5,203.0 L199.0,201.7 L200.5,200.5 L202.0,199.3 L203.5,198.1 L205.0,196.9 L206.6,195.7 L208.1,194.5 L209.6,193.3 L211.1,192.1 L212.6,190.9 L214.1,189.8 L215.6,188.6 L217.1,187.4 L218.6,186.2 L220.1,185.0 L221.6,183.8 L223.1,182.6 L224.6,181.5 L226.1,180.3 L227.6,179.1 L229.1,177.9 L230.7,176.7 L232.2,175.5 L233.7,174.3 L235.2,173.1 L236.7,171.9 L238.2,170.8 L239.7,169.6 L241.2,168.4 L242.7,167.2 L244.2,166.0 L245.7,164.8 L247.2,163.7 L248.7,162.5 L250.2,161.3 L251.7,160.2 L253.3,159.0 L254.8,157.8 L256.3,156.7 L257.8,155.5 L259.3,154.3 L260.8,153.2 L262.3,152.0 L263.8,150.9 L265.3,149.7 L266.8,148.6 L268.3,147.5 L269.8,146.3 L271.3,145.2 L272.8,144.1 L274.3,143.0 L275.8,141.9 L277.4,140.7 L278.9,139.6 L280.4,138.5 L281.9,137.4 L283.4,136.3 L284.9,135.2 L286.4,134.1 L287.9,133.0 L289.4,131.9 L290.9,130.8 L292.4,129.6 L293.9,128.5 L295.4,127.4 L296.9,126.2 L298.4,125.0 L300.0,123.8 L301.5,122.6 L303.0,121.3 L304.5,120.0 L306.0,118.7 L307.5,117.3 L309.0,115.9 L310.5,114.5 L312.0,113.0 L313.5,111.6 L315.0,110.1 L316.5,108.7 L318.0,107.2 L319.5,105.8 L321.0,104.4 L322.6,103.0 L324.1,101.6 L325.6,100.3 L327.1,99.0 L328.6,97.7 L330.1,96.5 L331.6,95.4 L333.1,94.2 L334.6,93.2 L336.1,92.1 L337.6,91.1 L339.1,90.1 L340.6,89.1 L342.1,88.1 L343.6,87.2 L345.1,86.2 L346.7,85.3 L348.2,84.4 L349.7,83.5 L351.2,82.6 L352.7,81.7 L354.2,80.8 L355.7,79.9 L357.2,79.1 L358.7,78.2 L360.2,77.4 L361.7,76.5 L363.2,75.7 L364.7,74.9 L366.2,74.1 L367.7,73.3 L369.3,72.5 L370.8,71.8 L372.3,71.0 L373.8,70.3 L375.3,69.5 L376.8,68.8 L378.3,68.1 L379.8,67.4 L381.3,66.7 L382.8,66.0 L384.3,65.3 L385.8,64.6 L387.3,64.0 L388.8,63.3 L390.3,62.7 L391.8,62.1 L393.4,61.5 L394.9,60.9 L396.4,60.3 L397.9,59.8 L399.4,59.3 L400.9,58.8 L402.4,58.3 L403.9,57.9 L405.4,57.5 L406.9,57.1 L408.4,56.7 L409.9,56.4 L411.4,56.1 L412.9,55.8 L414.4,55.5 L416.0,55.2 L417.5,55.0 L419.0,54.8 L420.5,54.5 L422.0,54.3 L423.5,54.1 L425.0,53.9 L426.5,53.8 L428.0,53.6 L429.5,53.4 L431.0,53.3 L432.5,53.1 L434.0,53.0 L435.5,53.0 L437.0,53.0 L438.6,53.2 L440.1,53.5 L441.6,53.9 L443.1,54.4 L444.6,55.0 L446.1,55.7 L447.6,56.2 L449.1,56.7 L450.6,57.1 L452.1,57.4 L453.6,57.6 L455.1,57.7 L456.6,57.8 L458.1,57.8 L459.6,57.9 L461.1,57.9 L462.7,57.9 L464.2,58.0 L465.7,58.1 L467.2,58.3 L468.7,58.4 L470.2,58.6 L471.7,58.9 L473.2,59.1 L474.7,59.3 L476.2,59.6 L477.7,59.8 L479.2,60.0 L480.7,60.3 L482.2,60.5 L483.7,60.7 L485.3,61.0 L486.8,61.3 L488.3,61.6 L489.8,62.0 L491.3,62.4 L492.8,62.8 L494.3,63.3 L495.8,63.9 L497.3,64.4 L498.8,65.1 L500.3,65.7 L501.8,66.5 L503.3,67.2 L504.8,68.0 L506.3,68.9 L507.8,69.7 L509.4,70.7 L510.9,71.6 L512.4,72.6 L513.9,73.7 L515.4,74.8 L516.9,76.0 L518.4,77.2 L519.9,78.4 L521.4,79.7 L522.9,81.1 L524.4,82.5 L525.9,84.0 L527.4,85.6 L528.9,87.1 L530.4,88.8 L532.0,90.4 L533.5,92.1 L535.0,93.8 L536.5,95.6 L538.0,97.3 L539.5,99.1 L541.0,100.9 L542.5,102.7 L544.0,104.6 L545.5,106.5 L547.0,108.3 L548.5,110.3 L550.0,112.2 L551.5,114.2 L553.0,116.3 L554.6,118.5 L556.1,120.7 L557.6,123.1 L559.1,125.5 L560.6,128.1 L562.1,130.7 L563.6,133.4 L565.1,136.3 L566.6,139.1 L568.1,142.0 L569.6,144.9 L571.1,147.7 L572.6,150.6 L574.1,153.5 L575.6,156.4 L577.1,159.3 L578.7,162.3 L580.2,165.2 L581.7,168.1 L583.2,171.0 L584.7,173.8 L586.2,176.6 L587.7,179.2 L589.2,181.7 L590.7,184.1 L592.2,186.3 L593.7,188.4 L595.2,190.5 L596.7,192.4 L598.2,194.2 L599.7,196.0 L601.3,197.8 L602.8,199.6 L604.3,201.3 L605.8,203.1" fill="none" stroke="#1f8fd0" stroke-width="1.3" stroke-linejoin="round"/>
<rect x="114" y="68.1" width="43" height="12.6" fill="#dcdcdc"/>
<line x1="114" x2="157" y1="74.9" y2="74.9" stroke="#8c8c8c" stroke-width="2"/>
<text x="159.8" y="79.1" font-size="12.00" fill="#333" text-anchor="start" font-weight="normal" textLength="110.2" lengthAdjust="spacingAndGlyphs" stroke="#333" stroke-width="0.25">1981-2010 mean and</text>
<text x="164.5" y="93.4" font-size="12.30" fill="#333" text-anchor="start" font-weight="normal" textLength="101.1" lengthAdjust="spacingAndGlyphs" stroke="#333" stroke-width="0.25">range of variability</text>
<text x="152.0" y="107.9" font-size="12.30" fill="#a0a0a0" text-anchor="start" font-weight="normal" textLength="122.9" lengthAdjust="spacingAndGlyphs" stroke="#a0a0a0" stroke-width="0.25">(2 standard deviations)</text>
<line x1="423" x2="469.3" y1="88.5" y2="88.5" stroke="#333333" stroke-width="1.2" stroke-dasharray="4.1,4.3"/>
<text x="474.6" y="92.2" font-size="12.00" fill="#333" text-anchor="start" font-weight="normal" textLength="24.6" lengthAdjust="spacingAndGlyphs" stroke="#333" stroke-width="0.25">2019</text>
<line x1="423" x2="469.5" y1="101.5" y2="101.5" stroke="#222222" stroke-width="1.2"/>
<text x="474.6" y="105.2" font-size="12.00" fill="#333" text-anchor="start" font-weight="normal" textLength="24.6" lengthAdjust="spacingAndGlyphs" stroke="#333" stroke-width="0.25">2018</text>
<line x1="423" x2="469.3" y1="121.8" y2="121.8" stroke="#5ab8e8" stroke-width="2.2" stroke-dasharray="4.6,3.7"/>
<text x="474.6" y="125.5" font-size="12.00" fill="#333" text-anchor="start" font-weight="normal" textLength="24.6" lengthAdjust="spacingAndGlyphs" stroke="#333" stroke-width="0.25">2017</text>
<line x1="423" x2="469.5" y1="135.2" y2="135.2" stroke="#1f8fd0" stroke-width="1.3"/>
<text x="474.6" y="138.9" font-size="12.00" fill="#333" text-anchor="start" font-weight="normal" textLength="24.6" lengthAdjust="spacingAndGlyphs" stroke="#333" stroke-width="0.25">2016</text>
<line x1="423" x2="469.5" y1="157.0" y2="157.0" stroke="#d4ecc8" stroke-width="2.0" stroke-dasharray="4.8,3.6"/>
<text x="474.6" y="160.7" font-size="12.00" fill="#333" text-anchor="start" font-weight="normal" textLength="24.6" lengthAdjust="spacingAndGlyphs" stroke="#333" stroke-width="0.25">2015</text>
<line x1="423" x2="469.5" y1="170.5" y2="170.5" stroke="#b5dea0" stroke-width="1.3"/>
<text x="474.6" y="174.2" font-size="12.00" fill="#333" text-anchor="start" font-weight="normal" textLength="24.6" lengthAdjust="spacingAndGlyphs" stroke="#333" stroke-width="0.25">2014</text>
<line x1="423" x2="469.5" y1="192.1" y2="192.1" stroke="#3cb860" stroke-width="2.0" stroke-dasharray="4.8,3.6"/>
<text x="474.6" y="195.8" font-size="12.00" fill="#333" text-anchor="start" font-weight="normal" textLength="24.6" lengthAdjust="spacingAndGlyphs" stroke="#333" stroke-width="0.25">2013</text>
<line x1="423" x2="469.5" y1="204.4" y2="204.4" stroke="#2db34a" stroke-width="1.4"/>
<text x="474.6" y="208.1" font-size="12.00" fill="#333" text-anchor="start" font-weight="normal" textLength="24.6" lengthAdjust="spacingAndGlyphs" stroke="#333" stroke-width="0.25">2012</text>
<line x1="423" x2="464.6" y1="225.0" y2="225.0" stroke="#f9c5c0" stroke-width="1.4" stroke-dasharray="4.2,4.3"/>
<text x="474.6" y="228.7" font-size="12.00" fill="#333" text-anchor="start" font-weight="normal" textLength="24.6" lengthAdjust="spacingAndGlyphs" stroke="#333" stroke-width="0.25">2011</text>
<line x1="423" x2="464.6" y1="237.5" y2="237.5" stroke="#f5b0a8" stroke-width="1.4"/>
<text x="474.6" y="241.2" font-size="12.00" fill="#333" text-anchor="start" font-weight="normal" textLength="24.6" lengthAdjust="spacingAndGlyphs" stroke="#333" stroke-width="0.25">2010</text>
<text x="41.8" y="278.2" font-size="12.00" fill="#333" text-anchor="end" font-weight="normal" stroke="#333" stroke-width="0.25">0</text>
<text x="41.8" y="218.2" font-size="12.00" fill="#333" text-anchor="end" font-weight="normal" stroke="#333" stroke-width="0.25">5</text>
<text x="41.8" y="158.2" font-size="12.00" fill="#333" text-anchor="end" font-weight="normal" stroke="#333" stroke-width="0.25">10</text>
<text x="41.8" y="98.2" font-size="12.00" fill="#333" text-anchor="end" font-weight="normal" stroke="#333" stroke-width="0.25">15</text>
<text x="41.8" y="37.2" font-size="12.00" fill="#333" text-anchor="end" font-weight="normal" stroke="#333" stroke-width="0.25">20</text>
<text x="79.3" y="289.9" font-size="11.20" fill="#222" text-anchor="middle" font-weight="normal" stroke="#222" stroke-width="0.30">Jan</text>
<text x="123.7" y="289.9" font-size="11.20" fill="#222" text-anchor="middle" font-weight="normal" stroke="#222" stroke-width="0.30">Feb</text>
<text x="168.1" y="289.9" font-size="11.20" fill="#222" text-anchor="middle" font-weight="normal" stroke="#222" stroke-width="0.30">Mar</text>
<text x="214.1" y="289.9" font-size="11.20" fill="#222" text-anchor="middle" font-weight="normal" stroke="#222" stroke-width="0.30">Apr</text>
<text x="260.0" y="289.9" font-size="11.20" fill="#222" text-anchor="middle" font-weight="normal" stroke="#222" stroke-width="0.30">May</text>
<text x="306.0" y="289.9" font-size="11.20" fill="#222" text-anchor="middle" font-weight="normal" stroke="#222" stroke-width="0.30">Jun</text>
<text x="351.9" y="289.9" font-size="11.20" fill="#222" text-anchor="middle" font-weight="normal" stroke="#222" stroke-width="0.30">Jul</text>
<text x="398.6" y="289.9" font-size="11.20" fill="#222" text-anchor="middle" font-weight="normal" stroke="#222" stroke-width="0.30">Aug</text>
<text x="444.6" y="289.9" font-size="11.20" fill="#222" text-anchor="middle" font-weight="normal" stroke="#222" stroke-width="0.30">Sep</text>
<text x="490.5" y="289.9" font-size="11.20" fill="#222" text-anchor="middle" font-weight="normal" stroke="#222" stroke-width="0.30">Oct</text>
<text x="536.5" y="289.9" font-size="11.20" fill="#222" text-anchor="middle" font-weight="normal" stroke="#222" stroke-width="0.30">Nov</text>
<text x="582.4" y="289.9" font-size="11.20" fill="#222" text-anchor="middle" font-weight="normal" stroke="#222" stroke-width="0.30">Dec</text>
<text x="308.4" y="314.1" font-size="11.80" fill="#222" text-anchor="start" font-weight="normal" textLength="19.1" lengthAdjust="spacingAndGlyphs" stroke="#222" stroke-width="0.35">day</text>
<text x="528.4" y="307.3" font-size="10.00" fill="#a3a3a3" text-anchor="start" font-weight="normal" textLength="88.4" lengthAdjust="spacingAndGlyphs" stroke="#a3a3a3" stroke-width="0.15">NOAA Climate.gov</text>
<text x="528.4" y="320.3" font-size="10.00" fill="#a3a3a3" text-anchor="start" font-weight="normal" textLength="57.7" lengthAdjust="spacingAndGlyphs" stroke="#a3a3a3" stroke-width="0.15">Data: NSIDC</text>
<text x="4.5" y="11.9" font-size="13.80" fill="#3a3a3a" text-anchor="start" font-weight="normal" textLength="467.0" lengthAdjust="spacingAndGlyphs" stroke="#3a3a3a" stroke-width="0.15">Annual cycle of sea ice extent in the Southern Ocean each year since 2010</text>
<text transform="translate(10.3,255) rotate(-90)" font-size="12" fill="#333" stroke="#333" stroke-width="0.15" textLength="203.3" lengthAdjust="spacingAndGlyphs"><tspan stroke="#333" stroke-width="0.4">extent</tspan> (millions of square kilometers)</text>
<rect x="419" y="270" width="1" height="1" fill="#bbb"/><rect x="451.2" y="270" width="1" height="1" fill="#bbb"/>
</svg>
</body></html>
